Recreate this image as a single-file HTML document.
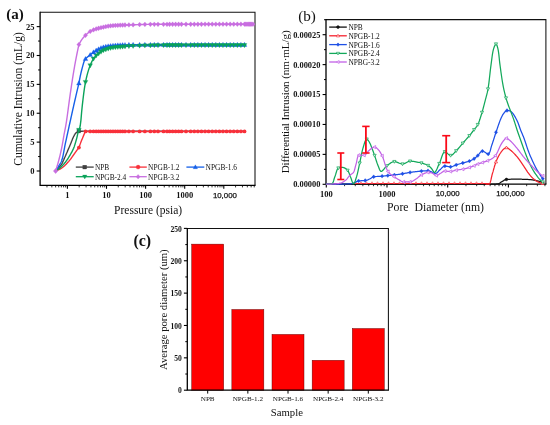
<!DOCTYPE html>
<html><head><meta charset="utf-8"><title>Figure</title>
<style>
html,body{margin:0;padding:0;background:#fff;}
body{width:550px;height:425px;overflow:hidden;}
svg{display:block;font-family:"Liberation Serif",serif;fill:#111;}
</style></head><body>
<svg width="550" height="425" viewBox="0 0 550 425">
<rect width="550" height="425" fill="#fff" stroke="none"/>
<path d="M40.1,12.3 H255 V185.4" fill="none" stroke="#111" stroke-width="1.05"/>
<path d="M40.1,11.8 V185.4 H255.5" fill="none" stroke="#000" stroke-width="1.3"/>
<line x1="36.7" y1="171" x2="40.1" y2="171" stroke="#000" stroke-width="1.1"/>
<text x="34.5" y="173.9" font-size="8.5" font-weight="bold" text-anchor="end">0</text>
<line x1="36.7" y1="142.12" x2="40.1" y2="142.12" stroke="#000" stroke-width="1.1"/>
<text x="34.5" y="145.03" font-size="8.5" font-weight="bold" text-anchor="end">5</text>
<line x1="36.7" y1="113.25" x2="40.1" y2="113.25" stroke="#000" stroke-width="1.1"/>
<text x="34.5" y="116.15" font-size="8.5" font-weight="bold" text-anchor="end">10</text>
<line x1="36.7" y1="84.38" x2="40.1" y2="84.38" stroke="#000" stroke-width="1.1"/>
<text x="34.5" y="87.28" font-size="8.5" font-weight="bold" text-anchor="end">15</text>
<line x1="36.7" y1="55.5" x2="40.1" y2="55.5" stroke="#000" stroke-width="1.1"/>
<text x="34.5" y="58.4" font-size="8.5" font-weight="bold" text-anchor="end">20</text>
<line x1="36.7" y1="26.62" x2="40.1" y2="26.62" stroke="#000" stroke-width="1.1"/>
<text x="34.5" y="29.52" font-size="8.5" font-weight="bold" text-anchor="end">25</text>
<line x1="38.1" y1="156.56" x2="40.1" y2="156.56" stroke="#000" stroke-width="1.0"/>
<line x1="38.1" y1="127.69" x2="40.1" y2="127.69" stroke="#000" stroke-width="1.0"/>
<line x1="38.1" y1="98.81" x2="40.1" y2="98.81" stroke="#000" stroke-width="1.0"/>
<line x1="38.1" y1="69.94" x2="40.1" y2="69.94" stroke="#000" stroke-width="1.0"/>
<line x1="38.1" y1="41.06" x2="40.1" y2="41.06" stroke="#000" stroke-width="1.0"/>
<line x1="67.4" y1="185.4" x2="67.4" y2="188.8" stroke="#000" stroke-width="1.1"/>
<text x="67.4" y="198.3" font-size="8.5" font-weight="bold" text-anchor="middle">1</text>
<line x1="106.5" y1="185.4" x2="106.5" y2="188.8" stroke="#000" stroke-width="1.1"/>
<text x="106.5" y="198.3" font-size="8.5" font-weight="bold" text-anchor="middle">10</text>
<line x1="145.6" y1="185.4" x2="145.6" y2="188.8" stroke="#000" stroke-width="1.1"/>
<text x="145.6" y="198.3" font-size="8.5" font-weight="bold" text-anchor="middle">100</text>
<line x1="184.7" y1="185.4" x2="184.7" y2="188.8" stroke="#000" stroke-width="1.1"/>
<text x="184.7" y="198.3" font-size="8.5" font-weight="bold" text-anchor="middle">1000</text>
<line x1="223.8" y1="185.4" x2="223.8" y2="188.8" stroke="#000" stroke-width="1.1"/>
<text x="224.9" y="197.9" font-size="7.85" text-anchor="middle" font-family="Liberation Sans, sans-serif" stroke="#111" stroke-width="0.25">10,000</text>
<line x1="46.96" y1="185.4" x2="46.96" y2="187.4" stroke="#000" stroke-width="0.8"/>
<line x1="51.84" y1="185.4" x2="51.84" y2="187.4" stroke="#000" stroke-width="0.8"/>
<line x1="55.63" y1="185.4" x2="55.63" y2="187.4" stroke="#000" stroke-width="0.8"/>
<line x1="58.73" y1="185.4" x2="58.73" y2="187.4" stroke="#000" stroke-width="0.8"/>
<line x1="61.34" y1="185.4" x2="61.34" y2="187.4" stroke="#000" stroke-width="0.8"/>
<line x1="63.61" y1="185.4" x2="63.61" y2="187.4" stroke="#000" stroke-width="0.8"/>
<line x1="65.61" y1="185.4" x2="65.61" y2="187.4" stroke="#000" stroke-width="0.8"/>
<line x1="79.17" y1="185.4" x2="79.17" y2="187.4" stroke="#000" stroke-width="0.8"/>
<line x1="86.06" y1="185.4" x2="86.06" y2="187.4" stroke="#000" stroke-width="0.8"/>
<line x1="90.94" y1="185.4" x2="90.94" y2="187.4" stroke="#000" stroke-width="0.8"/>
<line x1="94.73" y1="185.4" x2="94.73" y2="187.4" stroke="#000" stroke-width="0.8"/>
<line x1="97.83" y1="185.4" x2="97.83" y2="187.4" stroke="#000" stroke-width="0.8"/>
<line x1="100.44" y1="185.4" x2="100.44" y2="187.4" stroke="#000" stroke-width="0.8"/>
<line x1="102.71" y1="185.4" x2="102.71" y2="187.4" stroke="#000" stroke-width="0.8"/>
<line x1="104.71" y1="185.4" x2="104.71" y2="187.4" stroke="#000" stroke-width="0.8"/>
<line x1="118.27" y1="185.4" x2="118.27" y2="187.4" stroke="#000" stroke-width="0.8"/>
<line x1="125.16" y1="185.4" x2="125.16" y2="187.4" stroke="#000" stroke-width="0.8"/>
<line x1="130.04" y1="185.4" x2="130.04" y2="187.4" stroke="#000" stroke-width="0.8"/>
<line x1="133.83" y1="185.4" x2="133.83" y2="187.4" stroke="#000" stroke-width="0.8"/>
<line x1="136.93" y1="185.4" x2="136.93" y2="187.4" stroke="#000" stroke-width="0.8"/>
<line x1="139.54" y1="185.4" x2="139.54" y2="187.4" stroke="#000" stroke-width="0.8"/>
<line x1="141.81" y1="185.4" x2="141.81" y2="187.4" stroke="#000" stroke-width="0.8"/>
<line x1="143.81" y1="185.4" x2="143.81" y2="187.4" stroke="#000" stroke-width="0.8"/>
<line x1="157.37" y1="185.4" x2="157.37" y2="187.4" stroke="#000" stroke-width="0.8"/>
<line x1="164.26" y1="185.4" x2="164.26" y2="187.4" stroke="#000" stroke-width="0.8"/>
<line x1="169.14" y1="185.4" x2="169.14" y2="187.4" stroke="#000" stroke-width="0.8"/>
<line x1="172.93" y1="185.4" x2="172.93" y2="187.4" stroke="#000" stroke-width="0.8"/>
<line x1="176.03" y1="185.4" x2="176.03" y2="187.4" stroke="#000" stroke-width="0.8"/>
<line x1="178.64" y1="185.4" x2="178.64" y2="187.4" stroke="#000" stroke-width="0.8"/>
<line x1="180.91" y1="185.4" x2="180.91" y2="187.4" stroke="#000" stroke-width="0.8"/>
<line x1="182.91" y1="185.4" x2="182.91" y2="187.4" stroke="#000" stroke-width="0.8"/>
<line x1="196.47" y1="185.4" x2="196.47" y2="187.4" stroke="#000" stroke-width="0.8"/>
<line x1="203.36" y1="185.4" x2="203.36" y2="187.4" stroke="#000" stroke-width="0.8"/>
<line x1="208.24" y1="185.4" x2="208.24" y2="187.4" stroke="#000" stroke-width="0.8"/>
<line x1="212.03" y1="185.4" x2="212.03" y2="187.4" stroke="#000" stroke-width="0.8"/>
<line x1="215.13" y1="185.4" x2="215.13" y2="187.4" stroke="#000" stroke-width="0.8"/>
<line x1="217.74" y1="185.4" x2="217.74" y2="187.4" stroke="#000" stroke-width="0.8"/>
<line x1="220.01" y1="185.4" x2="220.01" y2="187.4" stroke="#000" stroke-width="0.8"/>
<line x1="222.01" y1="185.4" x2="222.01" y2="187.4" stroke="#000" stroke-width="0.8"/>
<line x1="235.57" y1="185.4" x2="235.57" y2="187.4" stroke="#000" stroke-width="0.8"/>
<line x1="242.46" y1="185.4" x2="242.46" y2="187.4" stroke="#000" stroke-width="0.8"/>
<line x1="247.34" y1="185.4" x2="247.34" y2="187.4" stroke="#000" stroke-width="0.8"/>
<line x1="251.13" y1="185.4" x2="251.13" y2="187.4" stroke="#000" stroke-width="0.8"/>
<line x1="254.23" y1="185.4" x2="254.23" y2="187.4" stroke="#000" stroke-width="0.8"/>
<text x="22" y="99" font-size="11.5" text-anchor="middle" transform="rotate(-90 22 99)">Cumulative Intrusion (mL/g)</text>
<text x="148.1" y="214.1" font-size="11.5" text-anchor="middle">Pressure (psia)</text>
<text x="15.1" y="18.5" font-size="15" font-weight="bold" text-anchor="middle">(a)</text>
<polyline points="55.63,171 55.78,170.86 55.93,170.71 56.09,170.56 56.24,170.41 56.39,170.26 56.55,170.11 56.7,169.95 56.85,169.8 57,169.64 57.16,169.48 57.31,169.31 57.46,169.15 57.62,168.98 57.77,168.82 57.93,168.65 58.08,168.48 58.23,168.3 58.39,168.13 58.54,167.95 58.7,167.77 58.86,167.59 59.01,167.41 59.17,167.23 59.34,167.05 59.5,166.86 59.66,166.67 59.82,166.48 59.98,166.29 60.14,166.09 60.3,165.9 60.46,165.7 60.62,165.5 60.78,165.29 60.93,165.09 61.09,164.88 61.24,164.67 61.38,164.45 61.53,164.23 61.67,164.01 61.81,163.79 61.94,163.56 62.07,163.33 62.2,163.09 62.33,162.85 62.45,162.61 62.58,162.36 62.7,162.1 62.82,161.84 62.94,161.58 63.06,161.32 63.18,161.05 63.29,160.79 63.41,160.52 63.53,160.25 63.64,159.98 63.75,159.7 63.87,159.43 63.98,159.16 64.1,158.89 64.21,158.62 64.33,158.34 64.45,158.08 64.56,157.81 64.68,157.54 64.8,157.28 64.92,157.01 65.04,156.75 65.15,156.49 65.27,156.22 65.39,155.96 65.51,155.69 65.63,155.43 65.74,155.16 65.86,154.89 65.98,154.63 66.09,154.36 66.21,154.09 66.33,153.83 66.45,153.56 66.56,153.29 66.68,153.02 66.8,152.75 66.92,152.48 67.03,152.21 67.15,151.94 67.27,151.67 67.38,151.4 67.5,151.13 67.62,150.86 67.74,150.58 67.85,150.31 67.97,150.03 68.09,149.76 68.21,149.48 68.33,149.2 68.44,148.93 68.56,148.65 68.68,148.37 68.8,148.09 68.92,147.81 69.03,147.53 69.15,147.25 69.27,146.97 69.39,146.69 69.51,146.41 69.62,146.13 69.74,145.85 69.86,145.57 69.98,145.29 70.09,145.01 70.21,144.73 70.33,144.45 70.44,144.17 70.56,143.9 70.68,143.62 70.79,143.34 70.91,143.05 71.02,142.76 71.13,142.48 71.25,142.18 71.36,141.89 71.48,141.6 71.59,141.31 71.7,141.01 71.82,140.72 71.93,140.43 72.04,140.14 72.15,139.85 72.27,139.57 72.38,139.28 72.5,139 72.61,138.73 72.72,138.46 72.84,138.19 72.96,137.93 73.07,137.68 73.19,137.43 73.31,137.18 73.42,136.95 73.54,136.72 73.66,136.49 73.78,136.26 73.89,136.04 74,135.81 74.12,135.59 74.23,135.37 74.35,135.15 74.46,134.94 74.58,134.73 74.7,134.53 74.81,134.33 74.94,134.14 75.06,133.95 75.19,133.78 75.32,133.61 75.45,133.44 75.59,133.29 75.73,133.15 75.88,133.02 76.03,132.89 76.19,132.76 76.36,132.63 76.53,132.51 76.71,132.38 76.89,132.26 77.07,132.14 77.26,132.02 77.46,131.91 77.66,131.81 77.86,131.71 78.06,131.62 78.27,131.54 78.48,131.47 78.69,131.41 78.91,131.36 79.13,131.33 79.35,131.3 79.57,131.29 79.79,131.28 80.02,131.27 80.25,131.26 80.48,131.24 80.72,131.23 80.97,131.22 81.21,131.22 81.46,131.21 81.71,131.2 81.97,131.19 82.23,131.19 82.49,131.18 82.76,131.17 83.03,131.17 83.3,131.16 83.58,131.16 83.85,131.16 84.14,131.16 84.42,131.15 84.71,131.15 85,131.15 244.5,131.15" fill="none" stroke="#404040" stroke-width="1.4" stroke-linejoin="round" stroke-linecap="round"/>
<rect x="77.04" y="129.45" width="3.4" height="3.4" fill="#404040" stroke="#404040" stroke-width="0.5"/>
<polyline points="55.63,171 55.96,170.88 56.29,170.75 56.63,170.62 56.96,170.49 57.3,170.34 57.64,170.19 57.98,170.04 58.32,169.88 58.67,169.72 59.02,169.55 59.37,169.38 59.73,169.2 60.09,169.01 60.45,168.81 60.81,168.61 61.16,168.41 61.5,168.19 61.84,167.98 62.16,167.75 62.48,167.51 62.8,167.27 63.11,167.02 63.41,166.76 63.72,166.49 64.02,166.22 64.32,165.95 64.62,165.67 64.92,165.39 65.22,165.11 65.52,164.81 65.81,164.51 66.11,164.21 66.4,163.9 66.69,163.59 66.98,163.28 67.27,162.96 67.56,162.64 67.85,162.32 68.14,162 68.42,161.68 68.71,161.36 68.99,161.03 69.28,160.7 69.56,160.36 69.84,160.02 70.12,159.68 70.4,159.32 70.68,158.97 70.96,158.6 71.24,158.22 71.51,157.84 71.79,157.45 72.06,157.06 72.33,156.67 72.61,156.28 72.88,155.89 73.15,155.5 73.41,155.12 73.68,154.75 73.94,154.38 74.2,154.01 74.46,153.64 74.72,153.28 74.97,152.91 75.23,152.55 75.49,152.19 75.74,151.83 76,151.47 76.26,151.11 76.52,150.76 76.79,150.4 77.05,150.05 77.31,149.7 77.58,149.35 77.84,149 78.1,148.65 78.37,148.3 78.63,147.96 78.9,147.61 78.9,147.61 79.58,145.71 80.26,143.87 80.94,142.08 81.63,140.35 82.31,138.65 82.99,137 83.67,135.38 84.35,133.79 85.03,132.23 85.72,131.44 86.4,131.44 87.08,131.44 87.76,131.44 88.44,131.44 89.12,131.44 89.8,131.44 90.49,131.44 91.17,131.44 91.85,131.44 92.53,131.44 93.21,131.44 93.89,131.44 94.57,131.44 95.26,131.44 95.94,131.44 96.62,131.44 97.3,131.44 97.98,131.44 98.66,131.44 99.35,131.44 100.03,131.44 100.71,131.44 101.39,131.44 102.07,131.44 102.75,131.44 103.43,131.44 104.12,131.44 104.8,131.44 105.48,131.44 106.16,131.44 106.84,131.44 107.52,131.44 108.21,131.44 108.89,131.44 109.57,131.44 110.25,131.44 110.93,131.44 111.61,131.44 112.29,131.44 112.98,131.44 113.66,131.44 114.34,131.44 115.02,131.44 115.7,131.44 116.38,131.44 117.06,131.44 117.75,131.44 118.43,131.44 119.11,131.44 119.79,131.44 120.47,131.44 121.15,131.44 121.84,131.44 122.52,131.44 123.2,131.44 123.88,131.44 124.56,131.44 125.24,131.44 125.92,131.44 126.61,131.44 127.29,131.44 127.97,131.44 128.65,131.44 129.33,131.44 130.01,131.44 130.69,131.44 131.38,131.44 132.06,131.44 132.74,131.44 133.42,131.44 134.1,131.44 134.78,131.44 135.47,131.44 136.15,131.44 136.83,131.44 137.51,131.44 138.19,131.44 138.87,131.44 139.55,131.44 140.24,131.44 140.92,131.44 141.6,131.44 142.28,131.44 142.96,131.44 143.64,131.44 144.33,131.44 145.01,131.44 145.69,131.44 146.37,131.44 147.05,131.44 147.73,131.44 148.41,131.44 149.1,131.44 149.78,131.44 150.46,131.44 151.14,131.44 151.82,131.44 152.5,131.44 153.18,131.44 153.87,131.44 154.55,131.44 155.23,131.44 155.91,131.44 156.59,131.44 157.27,131.44 157.96,131.44 158.64,131.44 159.32,131.44 160,131.44 162,131.44 169.5,131.44 177,131.44 184.5,131.44 192,131.44 199.5,131.44 207,131.44 214.5,131.44 222,131.44 229.5,131.44 237,131.44 244.5,131.44" fill="none" stroke="#f8303a" stroke-width="1.4" stroke-linejoin="round" stroke-linecap="round"/>
<polyline points="55.63,171 56.01,170.44 56.4,169.87 56.78,169.29 57.17,168.69 57.56,168.07 57.94,167.44 58.33,166.79 58.71,166.14 59.11,165.49 59.52,164.83 59.93,164.16 60.33,163.46 60.73,162.74 61.11,161.98 61.47,161.16 61.8,160.3 62.11,159.33 62.41,158.26 62.71,157.1 62.99,155.86 63.26,154.57 63.52,153.23 63.78,151.86 64.03,150.49 64.28,149.12 64.53,147.78 64.77,146.48 65.01,145.23 65.24,144.07 65.48,142.97 65.71,141.9 65.94,140.85 66.16,139.82 66.38,138.82 66.59,137.83 66.8,136.85 67.01,135.89 67.22,134.94 67.42,134 67.63,133.07 67.83,132.17 68.01,131.31 68.2,130.48 68.38,129.66 68.56,128.84 68.74,127.99 68.93,127.12 69.14,126.19 69.35,125.21 69.59,124.15 69.83,123.02 70.09,121.84 70.37,120.61 70.65,119.33 70.94,118.02 71.23,116.67 71.54,115.29 71.85,113.89 72.16,112.48 72.47,111.07 72.79,109.65 73.11,108.23 73.43,106.83 73.74,105.43 74.06,104.03 74.38,102.61 74.71,101.19 75.04,99.75 75.37,98.3 75.71,96.84 76.05,95.37 76.4,93.89 76.74,92.4 77.09,90.89 77.45,89.38 77.81,87.86 78.17,86.32 78.53,84.78 78.9,83.22 78.9,83.22 79.58,79.6 80.26,76.21 80.94,73.07 81.63,70.22 82.31,67.63 82.99,65.1 83.67,62.76 84.35,60.82 85.03,59.49 85.72,58.62 86.4,57.91 87.08,57.32 87.76,56.81 88.44,56.32 89.12,55.81 89.8,55.24 90.49,54.66 91.17,54.08 91.85,53.52 92.53,52.97 93.21,52.44 93.89,51.95 94.57,51.48 95.26,51.04 95.94,50.61 96.62,50.2 97.3,49.82 97.98,49.45 98.66,49.12 99.35,48.8 100.03,48.49 100.71,48.2 101.39,47.92 102.07,47.67 102.75,47.44 103.43,47.23 104.12,47.04 104.8,46.86 105.48,46.7 106.16,46.55 106.84,46.41 107.52,46.29 108.21,46.18 108.89,46.08 109.57,45.98 110.25,45.9 110.93,45.82 111.61,45.75 112.29,45.68 112.98,45.62 113.66,45.57 114.34,45.52 115.02,45.47 115.7,45.42 116.38,45.37 117.06,45.33 117.75,45.29 118.43,45.25 119.11,45.21 119.79,45.18 120.47,45.15 121.15,45.12 121.84,45.09 122.52,45.06 123.2,45.03 123.88,45 124.56,44.97 125.24,44.94 125.92,44.92 126.61,44.89 127.29,44.87 127.97,44.85 128.65,44.84 129.33,44.83 130.01,44.82 130.69,44.82 131.38,44.81 132.06,44.81 132.74,44.81 133.42,44.81 134.1,44.81 134.78,44.81 135.47,44.8 136.15,44.8 136.83,44.8 137.51,44.8 138.19,44.8 138.87,44.8 139.55,44.79 140.24,44.79 140.92,44.79 141.6,44.79 142.28,44.79 142.96,44.79 143.64,44.79 144.33,44.78 145.01,44.78 145.69,44.78 146.37,44.78 147.05,44.78 147.73,44.78 148.41,44.78 149.1,44.77 149.78,44.77 150.46,44.77 151.14,44.77 151.82,44.77 152.5,44.77 153.18,44.77 153.87,44.77 154.55,44.76 155.23,44.76 155.91,44.76 156.59,44.76 157.27,44.76 157.96,44.76 158.64,44.76 159.32,44.76 160,44.76 162,44.75 169.5,44.74 177,44.73 184.5,44.73 192,44.72 199.5,44.71 207,44.71 214.5,44.71 222,44.7 229.5,44.7 237,44.7 244.5,44.7" fill="none" stroke="#1560e8" stroke-width="1.4" stroke-linejoin="round" stroke-linecap="round"/>
<polyline points="55.63,171 56.03,170.79 56.44,170.57 56.84,170.33 57.24,170.07 57.65,169.8 58.05,169.52 58.46,169.23 58.86,168.92 59.27,168.59 59.69,168.23 60.1,167.86 60.51,167.47 60.91,167.08 61.31,166.69 61.7,166.3 62.08,165.92 62.45,165.53 62.82,165.14 63.18,164.75 63.54,164.35 63.9,163.95 64.25,163.54 64.6,163.12 64.95,162.69 65.3,162.26 65.64,161.82 65.99,161.36 66.33,160.91 66.67,160.44 67,159.97 67.34,159.49 67.67,159 67.99,158.51 68.31,158 68.64,157.49 68.95,156.97 69.27,156.44 69.58,155.91 69.89,155.37 70.21,154.82 70.52,154.27 70.83,153.72 71.14,153.16 71.46,152.6 71.77,152.04 72.08,151.47 72.39,150.88 72.69,150.28 72.99,149.67 73.27,149.03 73.55,148.37 73.82,147.68 74.1,146.95 74.37,146.19 74.63,145.4 74.89,144.6 75.15,143.79 75.4,142.97 75.64,142.16 75.87,141.35 76.1,140.56 76.31,139.8 76.51,139.06 76.7,138.32 76.89,137.57 77.06,136.81 77.23,136.05 77.4,135.31 77.56,134.6 77.71,133.91 77.86,133.28 78.01,132.69 78.15,132.18 78.29,131.72 78.42,131.3 78.55,130.92 78.67,130.57 78.79,130.26 78.9,130 78.9,130 79.58,128.61 80.26,125.51 80.94,120.16 81.63,111.98 82.31,105.33 82.99,99.46 83.67,93.94 84.35,88.94 85.03,84.62 85.72,81.09 86.4,77.97 87.08,75.16 87.76,72.63 88.44,70.36 89.12,68.32 89.8,66.48 90.49,64.75 91.17,63.13 91.85,61.65 92.53,60.3 93.21,59.11 93.89,58.08 94.57,57.23 95.26,56.47 95.94,55.8 96.62,55.19 97.3,54.62 97.98,54.08 98.66,53.54 99.35,53.01 100.03,52.49 100.71,51.99 101.39,51.52 102.07,51.09 102.75,50.7 103.43,50.36 104.12,50.06 104.8,49.78 105.48,49.52 106.16,49.28 106.84,49.06 107.52,48.85 108.21,48.65 108.89,48.46 109.57,48.28 110.25,48.11 110.93,47.95 111.61,47.82 112.29,47.7 112.98,47.61 113.66,47.53 114.34,47.45 115.02,47.38 115.7,47.31 116.38,47.25 117.06,47.19 117.75,47.13 118.43,47.08 119.11,47.03 119.79,46.97 120.47,46.92 121.15,46.86 121.84,46.8 122.52,46.74 123.2,46.67 123.88,46.61 124.56,46.55 125.24,46.48 125.92,46.42 126.61,46.36 127.29,46.31 127.97,46.25 128.65,46.2 129.33,46.15 130.01,46.11 130.69,46.08 131.38,46.04 132.06,46.01 132.74,45.98 133.42,45.95 134.1,45.92 134.78,45.89 135.47,45.86 136.15,45.83 136.83,45.81 137.51,45.78 138.19,45.76 138.87,45.73 139.55,45.71 140.24,45.69 140.92,45.67 141.6,45.65 142.28,45.63 142.96,45.61 143.64,45.6 144.33,45.58 145.01,45.57 145.69,45.55 146.37,45.54 147.05,45.52 147.73,45.51 148.41,45.49 149.1,45.48 149.78,45.47 150.46,45.45 151.14,45.44 151.82,45.43 152.5,45.41 153.18,45.4 153.87,45.39 154.55,45.38 155.23,45.37 155.91,45.36 156.59,45.36 157.27,45.35 157.96,45.34 158.64,45.34 159.32,45.34 160,45.34 162,45.33 169.5,45.32 177,45.31 184.5,45.31 192,45.3 199.5,45.29 207,45.29 214.5,45.28 222,45.28 229.5,45.28 237,45.28 244.5,45.28" fill="none" stroke="#0aa35a" stroke-width="1.4" stroke-linejoin="round" stroke-linecap="round"/>
<polyline points="55.63,171 55.86,170.25 56.1,169.47 56.35,168.67 56.6,167.85 56.85,167 57.11,166.14 57.37,165.27 57.64,164.38 57.91,163.46 58.19,162.51 58.47,161.51 58.76,160.44 59.06,159.29 59.38,158.04 59.71,156.72 60.05,155.33 60.38,153.9 60.72,152.44 61.04,150.98 61.36,149.52 61.66,148.09 61.94,146.7 62.21,145.3 62.46,143.87 62.71,142.45 62.96,141.02 63.2,139.61 63.43,138.21 63.67,136.84 63.9,135.5 64.13,134.21 64.36,133.01 64.58,131.89 64.8,130.81 65.01,129.74 65.23,128.63 65.46,127.45 65.7,126.16 65.95,124.73 66.21,123.1 66.49,121.29 66.78,119.33 67.08,117.23 67.39,115.02 67.7,112.72 68.02,110.35 68.34,107.94 68.66,105.52 68.99,103.1 69.31,100.71 69.63,98.37 69.95,96.11 70.26,93.95 70.56,91.89 70.86,89.87 71.16,87.88 71.45,85.91 71.74,83.97 72.04,82.04 72.33,80.12 72.62,78.22 72.92,76.33 73.22,74.44 73.53,72.55 73.84,70.66 74.17,68.77 74.5,66.88 74.83,64.99 75.18,63.1 75.52,61.22 75.88,59.34 76.24,57.47 76.6,55.61 76.97,53.75 77.35,51.89 77.73,50.04 78.12,48.2 78.51,46.36 78.9,44.53 78.9,44.53 79.58,43.25 80.26,42.04 80.94,40.9 81.63,39.86 82.31,38.91 82.99,38.04 83.67,37.22 84.35,36.46 85.03,35.75 85.72,35.08 86.4,34.44 87.08,33.81 87.76,33.21 88.44,32.64 89.12,32.13 89.8,31.66 90.49,31.25 91.17,30.9 91.85,30.57 92.53,30.26 93.21,29.98 93.89,29.71 94.57,29.47 95.26,29.24 95.94,29.02 96.62,28.81 97.3,28.61 97.98,28.42 98.66,28.25 99.35,28.08 100.03,27.92 100.71,27.76 101.39,27.61 102.07,27.46 102.75,27.31 103.43,27.15 104.12,27 104.8,26.84 105.48,26.68 106.16,26.53 106.84,26.39 107.52,26.25 108.21,26.13 108.89,26.02 109.57,25.92 110.25,25.85 110.93,25.78 111.61,25.72 112.29,25.65 112.98,25.6 113.66,25.54 114.34,25.49 115.02,25.45 115.7,25.4 116.38,25.36 117.06,25.32 117.75,25.28 118.43,25.25 119.11,25.22 119.79,25.19 120.47,25.16 121.15,25.14 121.84,25.11 122.52,25.09 123.2,25.07 123.88,25.05 124.56,25.03 125.24,25.02 125.92,25 126.61,24.98 127.29,24.96 127.97,24.95 128.65,24.93 129.33,24.91 130.01,24.89 130.69,24.87 131.38,24.85 132.06,24.83 132.74,24.8 133.42,24.78 134.1,24.76 134.78,24.73 135.47,24.71 136.15,24.68 136.83,24.65 137.51,24.63 138.19,24.6 138.87,24.58 139.55,24.55 140.24,24.53 140.92,24.51 141.6,24.48 142.28,24.46 142.96,24.44 143.64,24.42 144.33,24.4 145.01,24.39 145.69,24.37 146.37,24.36 147.05,24.34 147.73,24.33 148.41,24.33 149.1,24.32 149.78,24.32 150.46,24.31 151.14,24.31 151.82,24.31 152.5,24.31 153.18,24.31 153.87,24.31 154.55,24.3 155.23,24.3 155.91,24.3 156.59,24.3 157.27,24.3 157.96,24.3 158.64,24.29 159.32,24.29 160,24.29 162,24.29 170.32,24.27 178.64,24.26 186.95,24.24 195.27,24.23 203.59,24.22 211.91,24.22 220.23,24.21 228.55,24.21 236.86,24.2 245.18,24.2 253.5,24.2" fill="none" stroke="#c86ee0" stroke-width="1.4" stroke-linejoin="round" stroke-linecap="round"/>
<circle cx="78.9" cy="147.61" r="1.9" fill="#f8303a"/>
<circle cx="85.5" cy="131.44" r="1.9" fill="#f8303a"/>
<circle cx="90.2" cy="131.44" r="1.9" fill="#f8303a"/>
<circle cx="93.5" cy="131.44" r="1.9" fill="#f8303a"/>
<circle cx="96.2" cy="131.44" r="1.9" fill="#f8303a"/>
<circle cx="98.6" cy="131.44" r="1.9" fill="#f8303a"/>
<circle cx="101" cy="131.44" r="1.9" fill="#f8303a"/>
<circle cx="103.4" cy="131.44" r="1.9" fill="#f8303a"/>
<circle cx="105.8" cy="131.44" r="1.9" fill="#f8303a"/>
<circle cx="108.2" cy="131.44" r="1.9" fill="#f8303a"/>
<circle cx="110.6" cy="131.44" r="1.9" fill="#f8303a"/>
<circle cx="113" cy="131.44" r="1.9" fill="#f8303a"/>
<circle cx="115.4" cy="131.44" r="1.9" fill="#f8303a"/>
<circle cx="117.8" cy="131.44" r="1.9" fill="#f8303a"/>
<circle cx="120.2" cy="131.44" r="1.9" fill="#f8303a"/>
<circle cx="122.6" cy="131.44" r="1.9" fill="#f8303a"/>
<circle cx="125" cy="131.44" r="1.9" fill="#f8303a"/>
<circle cx="128.9" cy="131.44" r="1.9" fill="#f8303a"/>
<circle cx="133.1" cy="131.44" r="1.9" fill="#f8303a"/>
<circle cx="139.6" cy="131.44" r="1.9" fill="#f8303a"/>
<circle cx="144.9" cy="131.44" r="1.9" fill="#f8303a"/>
<circle cx="150.4" cy="131.44" r="1.9" fill="#f8303a"/>
<circle cx="154.3" cy="131.44" r="1.9" fill="#f8303a"/>
<circle cx="158" cy="131.44" r="1.9" fill="#f8303a"/>
<circle cx="163.5" cy="131.44" r="1.9" fill="#f8303a"/>
<circle cx="167" cy="131.44" r="1.9" fill="#f8303a"/>
<circle cx="169.6" cy="131.44" r="1.9" fill="#f8303a"/>
<circle cx="172.6" cy="131.44" r="1.9" fill="#f8303a"/>
<circle cx="175.6" cy="131.44" r="1.9" fill="#f8303a"/>
<circle cx="178.6" cy="131.44" r="1.9" fill="#f8303a"/>
<circle cx="181.5" cy="131.44" r="1.9" fill="#f8303a"/>
<circle cx="186" cy="131.44" r="1.9" fill="#f8303a"/>
<circle cx="190.7" cy="131.44" r="1.9" fill="#f8303a"/>
<circle cx="194.29" cy="131.44" r="1.9" fill="#f8303a"/>
<circle cx="197.87" cy="131.44" r="1.9" fill="#f8303a"/>
<circle cx="201.46" cy="131.44" r="1.9" fill="#f8303a"/>
<circle cx="205.05" cy="131.44" r="1.9" fill="#f8303a"/>
<circle cx="208.63" cy="131.44" r="1.9" fill="#f8303a"/>
<circle cx="212.22" cy="131.44" r="1.9" fill="#f8303a"/>
<circle cx="215.81" cy="131.44" r="1.9" fill="#f8303a"/>
<circle cx="219.39" cy="131.44" r="1.9" fill="#f8303a"/>
<circle cx="222.98" cy="131.44" r="1.9" fill="#f8303a"/>
<circle cx="226.57" cy="131.44" r="1.9" fill="#f8303a"/>
<circle cx="230.15" cy="131.44" r="1.9" fill="#f8303a"/>
<circle cx="233.74" cy="131.44" r="1.9" fill="#f8303a"/>
<circle cx="237.33" cy="131.44" r="1.9" fill="#f8303a"/>
<circle cx="240.91" cy="131.44" r="1.9" fill="#f8303a"/>
<circle cx="244.5" cy="131.44" r="1.9" fill="#f8303a"/>
<polygon points="78.9,132.47 76.54,128.28 81.27,128.28" fill="#0aa35a" stroke="#0aa35a" stroke-width="0.3"/>
<polygon points="85.5,84.61 83.14,80.42 87.86,80.42" fill="#0aa35a" stroke="#0aa35a" stroke-width="0.3"/>
<polygon points="90.2,67.93 87.84,63.74 92.56,63.74" fill="#0aa35a" stroke="#0aa35a" stroke-width="0.3"/>
<polygon points="93.5,61.13 91.14,56.93 95.86,56.93" fill="#0aa35a" stroke="#0aa35a" stroke-width="0.3"/>
<polygon points="96.2,58.03 93.84,53.84 98.56,53.84" fill="#0aa35a" stroke="#0aa35a" stroke-width="0.3"/>
<polygon points="98.6,56.07 96.23,51.87 100.96,51.87" fill="#0aa35a" stroke="#0aa35a" stroke-width="0.3"/>
<polygon points="78.9,80.75 76.54,84.94 81.27,84.94" fill="#1560e8" stroke="#1560e8" stroke-width="0.3"/>
<polygon points="85.5,56.4 83.14,60.6 87.86,60.6" fill="#1560e8" stroke="#1560e8" stroke-width="0.3"/>
<polygon points="90.2,52.43 87.84,56.62 92.56,56.62" fill="#1560e8" stroke="#1560e8" stroke-width="0.3"/>
<polygon points="93.5,49.75 91.14,53.95 95.86,53.95" fill="#1560e8" stroke="#1560e8" stroke-width="0.3"/>
<polygon points="96.2,47.98 93.84,52.17 98.56,52.17" fill="#1560e8" stroke="#1560e8" stroke-width="0.3"/>
<polygon points="98.6,46.67 96.23,50.87 100.96,50.87" fill="#1560e8" stroke="#1560e8" stroke-width="0.3"/>
<polygon points="101,45.6 98.64,49.8 103.36,49.8" fill="#1560e8" stroke="#1560e8" stroke-width="0.3"/>
<polygon points="103.4,44.77 101.04,48.96 105.77,48.96" fill="#1560e8" stroke="#1560e8" stroke-width="0.3"/>
<polygon points="105.8,44.15 103.44,48.35 108.17,48.35" fill="#1560e8" stroke="#1560e8" stroke-width="0.3"/>
<polygon points="108.2,43.71 105.84,47.9 110.57,47.9" fill="#1560e8" stroke="#1560e8" stroke-width="0.3"/>
<polygon points="110.6,43.38 108.24,47.58 112.97,47.58" fill="#1560e8" stroke="#1560e8" stroke-width="0.3"/>
<polygon points="113,43.15 110.64,47.34 115.37,47.34" fill="#1560e8" stroke="#1560e8" stroke-width="0.3"/>
<polygon points="115.4,42.97 113.04,47.16 117.77,47.16" fill="#1560e8" stroke="#1560e8" stroke-width="0.3"/>
<polygon points="117.8,42.81 115.44,47 120.17,47" fill="#1560e8" stroke="#1560e8" stroke-width="0.3"/>
<polygon points="120.2,42.69 117.84,46.88 122.57,46.88" fill="#1560e8" stroke="#1560e8" stroke-width="0.3"/>
<polygon points="122.6,42.58 120.24,46.77 124.97,46.77" fill="#1560e8" stroke="#1560e8" stroke-width="0.3"/>
<polygon points="125,42.48 122.64,46.67 127.37,46.67" fill="#1560e8" stroke="#1560e8" stroke-width="0.3"/>
<polygon points="128.9,42.36 126.54,46.55 131.27,46.55" fill="#1560e8" stroke="#1560e8" stroke-width="0.3"/>
<polygon points="133.1,42.34 130.73,46.53 135.47,46.53" fill="#1560e8" stroke="#1560e8" stroke-width="0.3"/>
<polygon points="139.6,42.32 137.23,46.51 141.97,46.51" fill="#1560e8" stroke="#1560e8" stroke-width="0.3"/>
<polygon points="144.9,42.31 142.53,46.5 147.27,46.5" fill="#1560e8" stroke="#1560e8" stroke-width="0.3"/>
<polygon points="150.4,42.3 148.03,46.49 152.77,46.49" fill="#1560e8" stroke="#1560e8" stroke-width="0.3"/>
<polygon points="154.3,42.29 151.94,46.49 156.67,46.49" fill="#1560e8" stroke="#1560e8" stroke-width="0.3"/>
<polygon points="158,42.29 155.63,46.48 160.37,46.48" fill="#1560e8" stroke="#1560e8" stroke-width="0.3"/>
<polygon points="163.5,42.28 161.13,46.47 165.87,46.47" fill="#1560e8" stroke="#1560e8" stroke-width="0.3"/>
<polygon points="167,42.27 164.63,46.47 169.37,46.47" fill="#1560e8" stroke="#1560e8" stroke-width="0.3"/>
<polygon points="169.6,42.27 167.23,46.46 171.97,46.46" fill="#1560e8" stroke="#1560e8" stroke-width="0.3"/>
<polygon points="172.6,42.27 170.23,46.46 174.97,46.46" fill="#1560e8" stroke="#1560e8" stroke-width="0.3"/>
<polygon points="175.6,42.26 173.23,46.45 177.97,46.45" fill="#1560e8" stroke="#1560e8" stroke-width="0.3"/>
<polygon points="178.6,42.26 176.23,46.45 180.97,46.45" fill="#1560e8" stroke="#1560e8" stroke-width="0.3"/>
<polygon points="181.5,42.26 179.13,46.45 183.87,46.45" fill="#1560e8" stroke="#1560e8" stroke-width="0.3"/>
<polygon points="186,42.25 183.63,46.44 188.37,46.44" fill="#1560e8" stroke="#1560e8" stroke-width="0.3"/>
<polygon points="190.7,42.25 188.33,46.44 193.06,46.44" fill="#1560e8" stroke="#1560e8" stroke-width="0.3"/>
<polygon points="194.29,42.24 191.92,46.44 196.65,46.44" fill="#1560e8" stroke="#1560e8" stroke-width="0.3"/>
<polygon points="197.87,42.24 195.51,46.43 200.24,46.43" fill="#1560e8" stroke="#1560e8" stroke-width="0.3"/>
<polygon points="201.46,42.24 199.09,46.43 203.82,46.43" fill="#1560e8" stroke="#1560e8" stroke-width="0.3"/>
<polygon points="205.05,42.24 202.68,46.43 207.41,46.43" fill="#1560e8" stroke="#1560e8" stroke-width="0.3"/>
<polygon points="208.63,42.24 206.27,46.43 211,46.43" fill="#1560e8" stroke="#1560e8" stroke-width="0.3"/>
<polygon points="212.22,42.23 209.85,46.43 214.59,46.43" fill="#1560e8" stroke="#1560e8" stroke-width="0.3"/>
<polygon points="215.81,42.23 213.44,46.43 218.17,46.43" fill="#1560e8" stroke="#1560e8" stroke-width="0.3"/>
<polygon points="219.39,42.23 217.03,46.42 221.76,46.42" fill="#1560e8" stroke="#1560e8" stroke-width="0.3"/>
<polygon points="222.98,42.23 220.61,46.42 225.34,46.42" fill="#1560e8" stroke="#1560e8" stroke-width="0.3"/>
<polygon points="226.57,42.23 224.2,46.42 228.93,46.42" fill="#1560e8" stroke="#1560e8" stroke-width="0.3"/>
<polygon points="230.15,42.23 227.79,46.42 232.52,46.42" fill="#1560e8" stroke="#1560e8" stroke-width="0.3"/>
<polygon points="233.74,42.23 231.38,46.42 236.11,46.42" fill="#1560e8" stroke="#1560e8" stroke-width="0.3"/>
<polygon points="237.33,42.23 234.96,46.42 239.69,46.42" fill="#1560e8" stroke="#1560e8" stroke-width="0.3"/>
<polygon points="240.91,42.23 238.55,46.42 243.28,46.42" fill="#1560e8" stroke="#1560e8" stroke-width="0.3"/>
<polygon points="244.5,42.23 242.13,46.42 246.87,46.42" fill="#1560e8" stroke="#1560e8" stroke-width="0.3"/>
<polygon points="101,54.26 98.64,50.07 103.36,50.07" fill="#0aa35a" stroke="#0aa35a" stroke-width="0.3"/>
<polygon points="103.4,52.85 101.04,48.66 105.77,48.66" fill="#0aa35a" stroke="#0aa35a" stroke-width="0.3"/>
<polygon points="105.8,51.88 103.44,47.69 108.17,47.69" fill="#0aa35a" stroke="#0aa35a" stroke-width="0.3"/>
<polygon points="108.2,51.13 105.84,46.94 110.57,46.94" fill="#0aa35a" stroke="#0aa35a" stroke-width="0.3"/>
<polygon points="110.6,50.5 108.24,46.3 112.97,46.3" fill="#0aa35a" stroke="#0aa35a" stroke-width="0.3"/>
<polygon points="113,50.08 110.64,45.89 115.37,45.89" fill="#0aa35a" stroke="#0aa35a" stroke-width="0.3"/>
<polygon points="115.4,49.81 113.04,45.62 117.77,45.62" fill="#0aa35a" stroke="#0aa35a" stroke-width="0.3"/>
<polygon points="117.8,49.6 115.44,45.41 120.17,45.41" fill="#0aa35a" stroke="#0aa35a" stroke-width="0.3"/>
<polygon points="120.2,49.41 117.84,45.22 122.57,45.22" fill="#0aa35a" stroke="#0aa35a" stroke-width="0.3"/>
<polygon points="122.6,49.2 120.24,45.01 124.97,45.01" fill="#0aa35a" stroke="#0aa35a" stroke-width="0.3"/>
<polygon points="125,48.98 122.64,44.79 127.37,44.79" fill="#0aa35a" stroke="#0aa35a" stroke-width="0.3"/>
<polygon points="128.9,48.66 126.54,44.46 131.27,44.46" fill="#0aa35a" stroke="#0aa35a" stroke-width="0.3"/>
<polygon points="133.1,48.43 130.73,44.24 135.47,44.24" fill="#0aa35a" stroke="#0aa35a" stroke-width="0.3"/>
<polygon points="139.6,48.18 137.23,43.99 141.97,43.99" fill="#0aa35a" stroke="#0aa35a" stroke-width="0.3"/>
<polygon points="144.9,48.04 142.53,43.85 147.27,43.85" fill="#0aa35a" stroke="#0aa35a" stroke-width="0.3"/>
<polygon points="150.4,47.93 148.03,43.73 152.77,43.73" fill="#0aa35a" stroke="#0aa35a" stroke-width="0.3"/>
<polygon points="154.3,47.86 151.94,43.67 156.67,43.67" fill="#0aa35a" stroke="#0aa35a" stroke-width="0.3"/>
<polygon points="158,47.82 155.63,43.62 160.37,43.62" fill="#0aa35a" stroke="#0aa35a" stroke-width="0.3"/>
<polygon points="163.5,47.8 161.13,43.61 165.87,43.61" fill="#0aa35a" stroke="#0aa35a" stroke-width="0.3"/>
<polygon points="167,47.8 164.63,43.61 169.37,43.61" fill="#0aa35a" stroke="#0aa35a" stroke-width="0.3"/>
<polygon points="169.6,47.79 167.23,43.6 171.97,43.6" fill="#0aa35a" stroke="#0aa35a" stroke-width="0.3"/>
<polygon points="172.6,47.79 170.23,43.6 174.97,43.6" fill="#0aa35a" stroke="#0aa35a" stroke-width="0.3"/>
<polygon points="175.6,47.79 173.23,43.59 177.97,43.59" fill="#0aa35a" stroke="#0aa35a" stroke-width="0.3"/>
<polygon points="178.6,47.78 176.23,43.59 180.97,43.59" fill="#0aa35a" stroke="#0aa35a" stroke-width="0.3"/>
<polygon points="181.5,47.78 179.13,43.59 183.87,43.59" fill="#0aa35a" stroke="#0aa35a" stroke-width="0.3"/>
<polygon points="186,47.78 183.63,43.58 188.37,43.58" fill="#0aa35a" stroke="#0aa35a" stroke-width="0.3"/>
<polygon points="190.7,47.77 188.33,43.58 193.06,43.58" fill="#0aa35a" stroke="#0aa35a" stroke-width="0.3"/>
<polygon points="194.29,47.77 191.92,43.58 196.65,43.58" fill="#0aa35a" stroke="#0aa35a" stroke-width="0.3"/>
<polygon points="197.87,47.77 195.51,43.57 200.24,43.57" fill="#0aa35a" stroke="#0aa35a" stroke-width="0.3"/>
<polygon points="201.46,47.76 199.09,43.57 203.82,43.57" fill="#0aa35a" stroke="#0aa35a" stroke-width="0.3"/>
<polygon points="205.05,47.76 202.68,43.57 207.41,43.57" fill="#0aa35a" stroke="#0aa35a" stroke-width="0.3"/>
<polygon points="208.63,47.76 206.27,43.57 211,43.57" fill="#0aa35a" stroke="#0aa35a" stroke-width="0.3"/>
<polygon points="212.22,47.76 209.85,43.57 214.59,43.57" fill="#0aa35a" stroke="#0aa35a" stroke-width="0.3"/>
<polygon points="215.81,47.76 213.44,43.56 218.17,43.56" fill="#0aa35a" stroke="#0aa35a" stroke-width="0.3"/>
<polygon points="219.39,47.76 217.03,43.56 221.76,43.56" fill="#0aa35a" stroke="#0aa35a" stroke-width="0.3"/>
<polygon points="222.98,47.75 220.61,43.56 225.34,43.56" fill="#0aa35a" stroke="#0aa35a" stroke-width="0.3"/>
<polygon points="226.57,47.75 224.2,43.56 228.93,43.56" fill="#0aa35a" stroke="#0aa35a" stroke-width="0.3"/>
<polygon points="230.15,47.75 227.79,43.56 232.52,43.56" fill="#0aa35a" stroke="#0aa35a" stroke-width="0.3"/>
<polygon points="233.74,47.75 231.38,43.56 236.11,43.56" fill="#0aa35a" stroke="#0aa35a" stroke-width="0.3"/>
<polygon points="237.33,47.75 234.96,43.56 239.69,43.56" fill="#0aa35a" stroke="#0aa35a" stroke-width="0.3"/>
<polygon points="240.91,47.75 238.55,43.56 243.28,43.56" fill="#0aa35a" stroke="#0aa35a" stroke-width="0.3"/>
<polygon points="244.5,47.75 242.13,43.56 246.87,43.56" fill="#0aa35a" stroke="#0aa35a" stroke-width="0.3"/>
<polygon points="78.9,42.13 76.8,44.53 78.9,46.93 81,44.53" fill="#c86ee0" stroke="#c86ee0" stroke-width="0.3"/>
<polygon points="85.5,32.89 83.4,35.29 85.5,37.69 87.6,35.29" fill="#c86ee0" stroke="#c86ee0" stroke-width="0.3"/>
<polygon points="90.2,29.01 88.1,31.41 90.2,33.81 92.3,31.41" fill="#c86ee0" stroke="#c86ee0" stroke-width="0.3"/>
<polygon points="93.5,27.46 91.4,29.86 93.5,32.26 95.6,29.86" fill="#c86ee0" stroke="#c86ee0" stroke-width="0.3"/>
<polygon points="96.2,26.53 94.1,28.93 96.2,31.33 98.3,28.93" fill="#c86ee0" stroke="#c86ee0" stroke-width="0.3"/>
<polygon points="98.6,25.86 96.5,28.26 98.6,30.66 100.7,28.26" fill="#c86ee0" stroke="#c86ee0" stroke-width="0.3"/>
<polygon points="101,25.29 98.9,27.69 101,30.09 103.1,27.69" fill="#c86ee0" stroke="#c86ee0" stroke-width="0.3"/>
<polygon points="103.4,24.76 101.3,27.16 103.4,29.56 105.5,27.16" fill="#c86ee0" stroke="#c86ee0" stroke-width="0.3"/>
<polygon points="105.8,24.21 103.7,26.61 105.8,29.01 107.9,26.61" fill="#c86ee0" stroke="#c86ee0" stroke-width="0.3"/>
<polygon points="108.2,23.73 106.1,26.13 108.2,28.53 110.3,26.13" fill="#c86ee0" stroke="#c86ee0" stroke-width="0.3"/>
<polygon points="110.6,23.41 108.5,25.81 110.6,28.21 112.7,25.81" fill="#c86ee0" stroke="#c86ee0" stroke-width="0.3"/>
<polygon points="113,23.2 110.9,25.6 113,28 115.1,25.6" fill="#c86ee0" stroke="#c86ee0" stroke-width="0.3"/>
<polygon points="115.4,23.02 113.3,25.42 115.4,27.82 117.5,25.42" fill="#c86ee0" stroke="#c86ee0" stroke-width="0.3"/>
<polygon points="117.8,22.88 115.7,25.28 117.8,27.68 119.9,25.28" fill="#c86ee0" stroke="#c86ee0" stroke-width="0.3"/>
<polygon points="120.2,22.77 118.1,25.17 120.2,27.57 122.3,25.17" fill="#c86ee0" stroke="#c86ee0" stroke-width="0.3"/>
<polygon points="122.6,22.69 120.5,25.09 122.6,27.49 124.7,25.09" fill="#c86ee0" stroke="#c86ee0" stroke-width="0.3"/>
<polygon points="125,22.62 122.9,25.02 125,27.42 127.1,25.02" fill="#c86ee0" stroke="#c86ee0" stroke-width="0.3"/>
<polygon points="128.9,22.52 126.8,24.92 128.9,27.32 131,24.92" fill="#c86ee0" stroke="#c86ee0" stroke-width="0.3"/>
<polygon points="133.1,22.39 131,24.79 133.1,27.19 135.2,24.79" fill="#c86ee0" stroke="#c86ee0" stroke-width="0.3"/>
<polygon points="139.6,22.15 137.5,24.55 139.6,26.95 141.7,24.55" fill="#c86ee0" stroke="#c86ee0" stroke-width="0.3"/>
<polygon points="144.9,21.99 142.8,24.39 144.9,26.79 147,24.39" fill="#c86ee0" stroke="#c86ee0" stroke-width="0.3"/>
<polygon points="150.4,21.91 148.3,24.31 150.4,26.71 152.5,24.31" fill="#c86ee0" stroke="#c86ee0" stroke-width="0.3"/>
<polygon points="154.3,21.9 152.2,24.3 154.3,26.7 156.4,24.3" fill="#c86ee0" stroke="#c86ee0" stroke-width="0.3"/>
<polygon points="158,21.9 155.9,24.3 158,26.7 160.1,24.3" fill="#c86ee0" stroke="#c86ee0" stroke-width="0.3"/>
<polygon points="163.5,21.88 161.4,24.28 163.5,26.68 165.6,24.28" fill="#c86ee0" stroke="#c86ee0" stroke-width="0.3"/>
<polygon points="167,21.88 164.9,24.28 167,26.68 169.1,24.28" fill="#c86ee0" stroke="#c86ee0" stroke-width="0.3"/>
<polygon points="169.6,21.87 167.5,24.27 169.6,26.67 171.7,24.27" fill="#c86ee0" stroke="#c86ee0" stroke-width="0.3"/>
<polygon points="172.6,21.87 170.5,24.27 172.6,26.67 174.7,24.27" fill="#c86ee0" stroke="#c86ee0" stroke-width="0.3"/>
<polygon points="175.6,21.86 173.5,24.26 175.6,26.66 177.7,24.26" fill="#c86ee0" stroke="#c86ee0" stroke-width="0.3"/>
<polygon points="178.6,21.86 176.5,24.26 178.6,26.66 180.7,24.26" fill="#c86ee0" stroke="#c86ee0" stroke-width="0.3"/>
<polygon points="181.5,21.85 179.4,24.25 181.5,26.65 183.6,24.25" fill="#c86ee0" stroke="#c86ee0" stroke-width="0.3"/>
<polygon points="186,21.84 183.9,24.24 186,26.64 188.1,24.24" fill="#c86ee0" stroke="#c86ee0" stroke-width="0.3"/>
<polygon points="190.7,21.84 188.6,24.24 190.7,26.64 192.8,24.24" fill="#c86ee0" stroke="#c86ee0" stroke-width="0.3"/>
<polygon points="194.29,21.83 192.19,24.23 194.29,26.63 196.39,24.23" fill="#c86ee0" stroke="#c86ee0" stroke-width="0.3"/>
<polygon points="197.87,21.83 195.77,24.23 197.87,26.63 199.97,24.23" fill="#c86ee0" stroke="#c86ee0" stroke-width="0.3"/>
<polygon points="201.46,21.83 199.36,24.23 201.46,26.63 203.56,24.23" fill="#c86ee0" stroke="#c86ee0" stroke-width="0.3"/>
<polygon points="205.05,21.82 202.95,24.22 205.05,26.62 207.15,24.22" fill="#c86ee0" stroke="#c86ee0" stroke-width="0.3"/>
<polygon points="208.63,21.82 206.53,24.22 208.63,26.62 210.73,24.22" fill="#c86ee0" stroke="#c86ee0" stroke-width="0.3"/>
<polygon points="212.22,21.82 210.12,24.22 212.22,26.62 214.32,24.22" fill="#c86ee0" stroke="#c86ee0" stroke-width="0.3"/>
<polygon points="215.81,21.81 213.71,24.21 215.81,26.61 217.91,24.21" fill="#c86ee0" stroke="#c86ee0" stroke-width="0.3"/>
<polygon points="219.39,21.81 217.29,24.21 219.39,26.61 221.49,24.21" fill="#c86ee0" stroke="#c86ee0" stroke-width="0.3"/>
<polygon points="222.98,21.81 220.88,24.21 222.98,26.61 225.08,24.21" fill="#c86ee0" stroke="#c86ee0" stroke-width="0.3"/>
<polygon points="226.57,21.81 224.47,24.21 226.57,26.61 228.67,24.21" fill="#c86ee0" stroke="#c86ee0" stroke-width="0.3"/>
<polygon points="230.15,21.81 228.05,24.21 230.15,26.61 232.25,24.21" fill="#c86ee0" stroke="#c86ee0" stroke-width="0.3"/>
<polygon points="233.74,21.8 231.64,24.2 233.74,26.6 235.84,24.2" fill="#c86ee0" stroke="#c86ee0" stroke-width="0.3"/>
<polygon points="237.33,21.8 235.23,24.2 237.33,26.6 239.43,24.2" fill="#c86ee0" stroke="#c86ee0" stroke-width="0.3"/>
<polygon points="240.91,21.8 238.81,24.2 240.91,26.6 243.01,24.2" fill="#c86ee0" stroke="#c86ee0" stroke-width="0.3"/>
<polygon points="244.5,21.8 242.4,24.2 244.5,26.6 246.6,24.2" fill="#c86ee0" stroke="#c86ee0" stroke-width="0.3"/>
<polygon points="245.8,21.8 243.7,24.2 245.8,26.6 247.9,24.2" fill="#c86ee0" stroke="#c86ee0" stroke-width="0.3"/>
<polygon points="247,21.8 244.9,24.2 247,26.6 249.1,24.2" fill="#c86ee0" stroke="#c86ee0" stroke-width="0.3"/>
<polygon points="248.2,21.8 246.1,24.2 248.2,26.6 250.3,24.2" fill="#c86ee0" stroke="#c86ee0" stroke-width="0.3"/>
<polygon points="249.4,21.8 247.3,24.2 249.4,26.6 251.5,24.2" fill="#c86ee0" stroke="#c86ee0" stroke-width="0.3"/>
<polygon points="250.6,21.8 248.5,24.2 250.6,26.6 252.7,24.2" fill="#c86ee0" stroke="#c86ee0" stroke-width="0.3"/>
<polygon points="251.8,21.8 249.7,24.2 251.8,26.6 253.9,24.2" fill="#c86ee0" stroke="#c86ee0" stroke-width="0.3"/>
<polygon points="253,21.8 250.9,24.2 253,26.6 255.1,24.2" fill="#c86ee0" stroke="#c86ee0" stroke-width="0.3"/>
<polygon points="55.63,168.48 53.42,171 55.63,173.52 57.83,171" fill="#c86ee0" stroke="#c86ee0" stroke-width="0.5"/>
<line x1="75.8" y1="167.1" x2="93.7" y2="167.1" stroke="#404040" stroke-width="1.3"/>
<rect x="82.85" y="165.2" width="3.8" height="3.8" fill="#404040" stroke="#404040" stroke-width="0.3"/>
<text x="94.9" y="170.1" font-size="7.4">NPB</text>
<line x1="129.4" y1="167.1" x2="146.8" y2="167.1" stroke="#f8303a" stroke-width="1.3"/>
<circle cx="138.1" cy="167.1" r="2" fill="#f8303a" stroke="#f8303a" stroke-width="0.3"/>
<text x="148.1" y="170.1" font-size="7.4">NPGB-1.2</text>
<line x1="186.4" y1="167.1" x2="204.3" y2="167.1" stroke="#1560e8" stroke-width="1.3"/>
<polygon points="195.35,164.8 193.15,168.7 197.55,168.7" fill="#1560e8" stroke="#1560e8" stroke-width="0.3"/>
<text x="205.6" y="170.1" font-size="7.4">NPGB-1.6</text>
<line x1="75.8" y1="176.7" x2="93.7" y2="176.7" stroke="#0aa35a" stroke-width="1.3"/>
<polygon points="84.75,179 82.55,175.1 86.95,175.1" fill="#0aa35a" stroke="#0aa35a" stroke-width="0.3"/>
<text x="94.9" y="179.7" font-size="7.4">NPGB-2.4</text>
<line x1="129.4" y1="176.7" x2="146.8" y2="176.7" stroke="#c86ee0" stroke-width="1.3"/>
<polygon points="138.1,174.42 136.11,176.7 138.1,178.98 140.1,176.7" fill="#c86ee0" stroke="#c86ee0" stroke-width="0.3"/>
<text x="148.1" y="179.7" font-size="7.4">NPGB-3.2</text>
<path d="M326,19.6 H545.9 V184.2" fill="none" stroke="#111" stroke-width="1.05"/>
<path d="M326,19.1 V184.2 H546.4" fill="none" stroke="#000" stroke-width="1.3"/>
<line x1="322.6" y1="184.3" x2="326" y2="184.3" stroke="#000" stroke-width="1.1"/>
<text x="320.4" y="187.2" font-size="8.4" font-weight="bold" text-anchor="end">0.00000</text>
<line x1="322.6" y1="154.38" x2="326" y2="154.38" stroke="#000" stroke-width="1.1"/>
<text x="320.4" y="157.28" font-size="8.4" font-weight="bold" text-anchor="end">0.00005</text>
<line x1="322.6" y1="124.46" x2="326" y2="124.46" stroke="#000" stroke-width="1.1"/>
<text x="320.4" y="127.36" font-size="8.4" font-weight="bold" text-anchor="end">0.00010</text>
<line x1="322.6" y1="94.54" x2="326" y2="94.54" stroke="#000" stroke-width="1.1"/>
<text x="320.4" y="97.44" font-size="8.4" font-weight="bold" text-anchor="end">0.00015</text>
<line x1="322.6" y1="64.62" x2="326" y2="64.62" stroke="#000" stroke-width="1.1"/>
<text x="320.4" y="67.52" font-size="8.4" font-weight="bold" text-anchor="end">0.00020</text>
<line x1="322.6" y1="34.7" x2="326" y2="34.7" stroke="#000" stroke-width="1.1"/>
<text x="320.4" y="37.6" font-size="8.4" font-weight="bold" text-anchor="end">0.00025</text>
<line x1="324" y1="169.34" x2="326" y2="169.34" stroke="#000" stroke-width="1.0"/>
<line x1="324" y1="139.42" x2="326" y2="139.42" stroke="#000" stroke-width="1.0"/>
<line x1="324" y1="109.5" x2="326" y2="109.5" stroke="#000" stroke-width="1.0"/>
<line x1="324" y1="79.58" x2="326" y2="79.58" stroke="#000" stroke-width="1.0"/>
<line x1="324" y1="49.66" x2="326" y2="49.66" stroke="#000" stroke-width="1.0"/>
<line x1="324" y1="19.74" x2="326" y2="19.74" stroke="#000" stroke-width="1.0"/>
<line x1="326.3" y1="184.2" x2="326.3" y2="187.6" stroke="#000" stroke-width="1.1"/>
<text x="326.3" y="196.5" font-size="8.5" font-weight="bold" text-anchor="middle">100</text>
<line x1="387" y1="184.2" x2="387" y2="187.6" stroke="#000" stroke-width="1.1"/>
<text x="387" y="196.5" font-size="8.5" font-weight="bold" text-anchor="middle">1000</text>
<line x1="447.7" y1="184.2" x2="447.7" y2="187.6" stroke="#000" stroke-width="1.1"/>
<text x="447.7" y="196.1" font-size="7.85" text-anchor="middle" font-family="Liberation Sans, sans-serif" stroke="#111" stroke-width="0.25">10,000</text>
<line x1="508.4" y1="184.2" x2="508.4" y2="187.6" stroke="#000" stroke-width="1.1"/>
<text x="510.4" y="196.1" font-size="7.85" text-anchor="middle" font-family="Liberation Sans, sans-serif" stroke="#111" stroke-width="0.25">100,000</text>
<line x1="344.57" y1="184.2" x2="344.57" y2="186.2" stroke="#000" stroke-width="0.8"/>
<line x1="355.26" y1="184.2" x2="355.26" y2="186.2" stroke="#000" stroke-width="0.8"/>
<line x1="362.85" y1="184.2" x2="362.85" y2="186.2" stroke="#000" stroke-width="0.8"/>
<line x1="368.73" y1="184.2" x2="368.73" y2="186.2" stroke="#000" stroke-width="0.8"/>
<line x1="373.53" y1="184.2" x2="373.53" y2="186.2" stroke="#000" stroke-width="0.8"/>
<line x1="377.6" y1="184.2" x2="377.6" y2="186.2" stroke="#000" stroke-width="0.8"/>
<line x1="381.12" y1="184.2" x2="381.12" y2="186.2" stroke="#000" stroke-width="0.8"/>
<line x1="384.22" y1="184.2" x2="384.22" y2="186.2" stroke="#000" stroke-width="0.8"/>
<line x1="405.27" y1="184.2" x2="405.27" y2="186.2" stroke="#000" stroke-width="0.8"/>
<line x1="415.96" y1="184.2" x2="415.96" y2="186.2" stroke="#000" stroke-width="0.8"/>
<line x1="423.55" y1="184.2" x2="423.55" y2="186.2" stroke="#000" stroke-width="0.8"/>
<line x1="429.43" y1="184.2" x2="429.43" y2="186.2" stroke="#000" stroke-width="0.8"/>
<line x1="434.23" y1="184.2" x2="434.23" y2="186.2" stroke="#000" stroke-width="0.8"/>
<line x1="438.3" y1="184.2" x2="438.3" y2="186.2" stroke="#000" stroke-width="0.8"/>
<line x1="441.82" y1="184.2" x2="441.82" y2="186.2" stroke="#000" stroke-width="0.8"/>
<line x1="444.92" y1="184.2" x2="444.92" y2="186.2" stroke="#000" stroke-width="0.8"/>
<line x1="465.97" y1="184.2" x2="465.97" y2="186.2" stroke="#000" stroke-width="0.8"/>
<line x1="476.66" y1="184.2" x2="476.66" y2="186.2" stroke="#000" stroke-width="0.8"/>
<line x1="484.25" y1="184.2" x2="484.25" y2="186.2" stroke="#000" stroke-width="0.8"/>
<line x1="490.13" y1="184.2" x2="490.13" y2="186.2" stroke="#000" stroke-width="0.8"/>
<line x1="494.93" y1="184.2" x2="494.93" y2="186.2" stroke="#000" stroke-width="0.8"/>
<line x1="499" y1="184.2" x2="499" y2="186.2" stroke="#000" stroke-width="0.8"/>
<line x1="502.52" y1="184.2" x2="502.52" y2="186.2" stroke="#000" stroke-width="0.8"/>
<line x1="505.62" y1="184.2" x2="505.62" y2="186.2" stroke="#000" stroke-width="0.8"/>
<line x1="526.67" y1="184.2" x2="526.67" y2="186.2" stroke="#000" stroke-width="0.8"/>
<line x1="537.36" y1="184.2" x2="537.36" y2="186.2" stroke="#000" stroke-width="0.8"/>
<line x1="544.95" y1="184.2" x2="544.95" y2="186.2" stroke="#000" stroke-width="0.8"/>
<text x="288.7" y="101.9" font-size="11.2" text-anchor="middle" transform="rotate(-90 288.7 101.9)" letter-spacing="-0.15">Differential Intrusion (nm·mL/g)</text>
<text x="435.5" y="211.4" font-size="11.75" text-anchor="middle" xml:space="preserve">Pore  Diameter (nm)</text>
<text x="307" y="21.2" font-size="15.2" text-anchor="middle">(b)</text>
<polyline points="326.3,184.1 328.55,184.1 330.79,184.1 333.02,184.1 335.23,184.1 337.43,184.1 339.61,184.1 341.78,184.1 343.94,184.1 346.08,184.1 348.2,184.1 350.32,184.1 352.42,184.1 354.5,184.1 356.57,184.1 358.63,184.1 360.67,184.1 362.69,184.1 364.71,184.1 366.7,184.1 368.69,184.1 370.66,184.1 372.61,184.1 374.55,184.1 376.48,184.1 378.39,184.1 380.29,184.1 382.17,184.1 384.04,184.1 385.89,184.1 387.73,184.1 389.55,184.1 391.36,184.1 393.16,184.1 394.94,184.1 396.7,184.1 398.45,184.1 400.19,184.1 401.91,184.1 403.61,184.1 405.31,184.1 406.98,184.1 408.64,184.1 410.29,184.1 411.92,184.1 413.54,184.1 415.14,184.1 416.73,184.1 418.3,184.1 419.85,184.1 421.39,184.1 422.92,184.1 424.43,184.1 425.93,184.1 427.41,184.1 428.87,184.1 430.32,184.1 431.76,184.1 433.18,184.1 434.58,184.1 435.97,184.1 437.35,184.1 438.71,184.1 440.05,184.1 441.38,184.1 442.69,184.1 443.99,184.1 445.27,184.1 446.54,184.1 447.79,184.1 449.02,184.1 450.24,184.1 451.45,184.1 452.63,184.1 453.81,184.1 454.96,184.1 456.11,184.1 457.23,184.1 458.34,184.1 459.44,184.1 460.52,184.1 461.58,184.1 462.63,184.1 463.66,184.1 464.67,184.1 465.67,184.1 466.66,184.1 467.62,184.1 468.58,184.1 469.51,184.1 470.43,184.1 471.34,184.1 472.23,184.1 473.1,184.1 473.95,184.1 474.79,184.1 475.62,184.1 476.43,184.1 477.22,184.1 477.99,184.1 478.75,184.1 479.49,184.1 480.22,184.1 480.93,184.1 481.63,184.1 482.3,184.1 482.97,184.1 483.61,184.1 484.24,184.1 484.85,184.1 485.45,184.1 486.03,184.1 486.59,184.1 487.14,184.1 487.67,184.1 488.18,184.1 488.68,184.1 489.16,184.1 489.63,184.1 490.07,184.1 490.5,184.1 490.92,184.1 491.32,184.1 491.7,184.1 492.06,184.1 492.41,184.1 492.74,184.1 493.05,184.1 493.35,184.09 493.64,184.09 493.92,184.09 494.18,184.08 494.43,184.08 494.67,184.07 494.91,184.06 495.14,184.05 495.36,184.05 495.58,184.04 495.79,184.03 496,184.02 496.21,184.01 496.41,183.99 496.62,183.98 496.83,183.97 497.04,183.96 497.25,183.94 497.47,183.93 497.69,183.91 497.91,183.88 498.13,183.84 498.34,183.77 498.55,183.7 498.76,183.61 498.97,183.51 499.17,183.41 499.38,183.29 499.58,183.17 499.78,183.04 499.98,182.9 500.18,182.77 500.38,182.63 500.58,182.49 500.78,182.35 500.98,182.21 501.17,182.07 501.38,181.94 501.58,181.82 501.78,181.7 501.99,181.59 502.19,181.48 502.39,181.37 502.59,181.25 502.78,181.12 502.98,180.99 503.17,180.87 503.36,180.74 503.56,180.61 503.75,180.48 503.94,180.35 504.14,180.23 504.34,180.11 504.54,180 504.74,179.89 504.95,179.79 505.16,179.7 505.38,179.62 505.6,179.56 505.83,179.5 506.07,179.46 506.31,179.43 506.56,179.41 506.82,179.4 507.09,179.38 507.37,179.37 507.66,179.35 507.95,179.34 508.26,179.33 508.57,179.31 508.89,179.3 509.21,179.29 509.54,179.28 509.87,179.27 510.21,179.26 510.55,179.25 510.89,179.24 511.23,179.24 511.58,179.23 511.92,179.22 512.27,179.21 512.62,179.21 512.97,179.2 513.31,179.2 513.65,179.19 513.99,179.19 514.33,179.19 514.66,179.18 514.99,179.18 515.31,179.18 515.63,179.18 515.94,179.18 516.25,179.18 516.56,179.18 516.86,179.18 517.16,179.18 517.47,179.19 517.77,179.19 518.07,179.19 518.36,179.19 518.66,179.2 518.96,179.2 519.25,179.2 519.55,179.21 519.84,179.21 520.13,179.22 520.43,179.22 520.72,179.23 521.01,179.23 521.3,179.24 521.59,179.24 521.88,179.25 522.17,179.26 522.45,179.26 522.74,179.27 523.03,179.28 523.32,179.28 523.6,179.29 523.89,179.3 524.17,179.3 524.46,179.31 524.74,179.32 525.03,179.33 525.31,179.34 525.59,179.35 525.87,179.36 526.15,179.37 526.43,179.39 526.71,179.4 526.99,179.42 527.27,179.43 527.55,179.45 527.83,179.46 528.1,179.48 528.38,179.5 528.66,179.52 528.93,179.54 529.21,179.56 529.49,179.58 529.76,179.6 530.04,179.62 530.31,179.64 530.59,179.67 530.86,179.69 531.14,179.71 531.41,179.74 531.69,179.77 531.97,179.8 532.25,179.84 532.53,179.88 532.82,179.92 533.1,179.97 533.38,180.02 533.66,180.07 533.95,180.12 534.23,180.18 534.51,180.24 534.79,180.3 535.07,180.36 535.35,180.42 535.62,180.48 535.89,180.54 536.17,180.61 536.43,180.67 536.7,180.73 536.96,180.8 537.22,180.86 537.48,180.92 537.73,180.98 537.98,181.05 538.22,181.1 538.46,181.16 538.7,181.22 538.93,181.29 539.17,181.35 539.4,181.41 539.63,181.47 539.86,181.54 540.08,181.6 540.3,181.66 540.52,181.73 540.74,181.8 540.96,181.86 541.17,181.93 541.38,182 541.59,182.06 541.8,182.13 542.01,182.2 542.21,182.27 542.41,182.34 542.61,182.41 542.8,182.48" fill="none" stroke="#111" stroke-width="1.25" stroke-linejoin="round" stroke-linecap="round"/>
<circle cx="506.4" cy="179.42" r="1.3" fill="#111" stroke="#111" stroke-width="0.6"/>
<circle cx="542.8" cy="182.48" r="1.3" fill="#111" stroke="#111" stroke-width="0.6"/>
<line x1="350" y1="183.5" x2="489" y2="183.5" stroke="#f5222d" stroke-width="1.2"/>
<polygon points="355.5,181.76 354.51,183.52 356.49,183.52" fill="#fff" stroke="#f5222d" stroke-width="0.55"/>
<polygon points="361,181.76 360.01,183.52 361.99,183.52" fill="#fff" stroke="#f5222d" stroke-width="0.55"/>
<polygon points="366.5,181.76 365.51,183.52 367.49,183.52" fill="#fff" stroke="#f5222d" stroke-width="0.55"/>
<polygon points="372,181.76 371.01,183.52 372.99,183.52" fill="#fff" stroke="#f5222d" stroke-width="0.55"/>
<polygon points="377.5,181.76 376.51,183.52 378.49,183.52" fill="#fff" stroke="#f5222d" stroke-width="0.55"/>
<polygon points="383,181.76 382.01,183.52 383.99,183.52" fill="#fff" stroke="#f5222d" stroke-width="0.55"/>
<polygon points="388.5,181.76 387.51,183.52 389.49,183.52" fill="#fff" stroke="#f5222d" stroke-width="0.55"/>
<polygon points="394,181.76 393.01,183.52 394.99,183.52" fill="#fff" stroke="#f5222d" stroke-width="0.55"/>
<polygon points="399.5,181.76 398.51,183.52 400.49,183.52" fill="#fff" stroke="#f5222d" stroke-width="0.55"/>
<polygon points="405,181.76 404.01,183.52 405.99,183.52" fill="#fff" stroke="#f5222d" stroke-width="0.55"/>
<polygon points="410.5,181.76 409.51,183.52 411.49,183.52" fill="#fff" stroke="#f5222d" stroke-width="0.55"/>
<polygon points="416,181.76 415.01,183.52 416.99,183.52" fill="#fff" stroke="#f5222d" stroke-width="0.55"/>
<polygon points="421.5,181.76 420.51,183.52 422.49,183.52" fill="#fff" stroke="#f5222d" stroke-width="0.55"/>
<polygon points="427,181.76 426.01,183.52 427.99,183.52" fill="#fff" stroke="#f5222d" stroke-width="0.55"/>
<polygon points="432.5,181.76 431.51,183.52 433.49,183.52" fill="#fff" stroke="#f5222d" stroke-width="0.55"/>
<polygon points="438,181.76 437.01,183.52 438.99,183.52" fill="#fff" stroke="#f5222d" stroke-width="0.55"/>
<polygon points="443.5,181.76 442.51,183.52 444.49,183.52" fill="#fff" stroke="#f5222d" stroke-width="0.55"/>
<polygon points="449,181.76 448.01,183.52 449.99,183.52" fill="#fff" stroke="#f5222d" stroke-width="0.55"/>
<polygon points="454.5,181.76 453.51,183.52 455.49,183.52" fill="#fff" stroke="#f5222d" stroke-width="0.55"/>
<polygon points="460,181.76 459.01,183.52 460.99,183.52" fill="#fff" stroke="#f5222d" stroke-width="0.55"/>
<polygon points="465.5,181.76 464.51,183.52 466.49,183.52" fill="#fff" stroke="#f5222d" stroke-width="0.55"/>
<polygon points="471,181.76 470.01,183.52 471.99,183.52" fill="#fff" stroke="#f5222d" stroke-width="0.55"/>
<polygon points="476.5,181.76 475.51,183.52 477.49,183.52" fill="#fff" stroke="#f5222d" stroke-width="0.55"/>
<polygon points="482,181.76 481.01,183.52 482.99,183.52" fill="#fff" stroke="#f5222d" stroke-width="0.55"/>
<polyline points="486,184.1 486.21,184.1 486.42,184.1 486.63,184.1 486.84,184.1 487.04,184.1 487.24,184.1 487.44,184.1 487.63,184.1 487.82,184.1 488.01,184.1 488.19,184.1 488.36,184.1 488.53,184.1 488.69,184.1 488.85,184.1 489,184.1 489.14,184.08 489.28,184.02 489.41,183.92 489.54,183.78 489.67,183.6 489.8,183.39 489.92,183.15 490.04,182.88 490.15,182.58 490.27,182.26 490.38,181.92 490.49,181.55 490.6,181.16 490.71,180.76 490.81,180.34 490.92,179.91 491.02,179.47 491.13,179.02 491.23,178.57 491.33,178.11 491.43,177.65 491.53,177.19 491.64,176.73 491.74,176.27 491.84,175.82 491.94,175.38 492.05,174.95 492.15,174.54 492.26,174.13 492.37,173.75 492.47,173.38 492.59,173.03 492.69,172.67 492.8,172.31 492.91,171.95 493.01,171.59 493.12,171.23 493.22,170.86 493.33,170.5 493.43,170.13 493.53,169.76 493.64,169.39 493.74,169.03 493.84,168.66 493.94,168.29 494.05,167.92 494.15,167.55 494.25,167.18 494.36,166.82 494.46,166.45 494.57,166.09 494.68,165.72 494.79,165.36 494.89,165 495.01,164.65 495.12,164.29 495.23,163.94 495.35,163.59 495.46,163.25 495.58,162.9 495.71,162.56 495.83,162.23 495.96,161.9 496.08,161.57 496.22,161.24 496.35,160.9 496.49,160.57 496.63,160.24 496.77,159.9 496.92,159.57 497.07,159.24 497.22,158.91 497.37,158.58 497.52,158.25 497.68,157.92 497.84,157.6 498,157.28 498.16,156.96 498.32,156.64 498.48,156.33 498.64,156.03 498.8,155.72 498.96,155.43 499.13,155.13 499.29,154.85 499.45,154.57 499.61,154.29 499.78,154.02 499.94,153.76 500.1,153.51 500.26,153.27 500.41,153.03 500.57,152.8 500.72,152.57 500.88,152.35 501.04,152.13 501.19,151.91 501.35,151.69 501.51,151.48 501.66,151.27 501.82,151.06 501.98,150.86 502.13,150.66 502.29,150.47 502.45,150.29 502.61,150.11 502.77,149.94 502.92,149.77 503.08,149.61 503.24,149.46 503.4,149.32 503.56,149.18 503.72,149.06 503.88,148.94 504.04,148.82 504.2,148.7 504.36,148.58 504.52,148.46 504.68,148.34 504.84,148.23 505,148.12 505.16,148.02 505.33,147.93 505.49,147.85 505.66,147.77 505.82,147.71 505.99,147.67 506.16,147.64 506.34,147.62 506.51,147.62 506.69,147.65 506.86,147.69 507.04,147.74 507.22,147.81 507.4,147.9 507.59,148 507.77,148.11 507.96,148.23 508.14,148.36 508.33,148.5 508.52,148.65 508.72,148.79 508.91,148.95 509.11,149.1 509.31,149.26 509.51,149.42 509.72,149.58 509.93,149.73 510.14,149.88 510.36,150.04 510.58,150.22 510.81,150.4 511.04,150.59 511.27,150.78 511.51,150.99 511.75,151.2 511.99,151.42 512.24,151.65 512.49,151.88 512.74,152.12 512.99,152.37 513.24,152.61 513.49,152.87 513.75,153.12 514,153.39 514.26,153.65 514.51,153.92 514.76,154.19 515.02,154.46 515.27,154.73 515.52,155 515.77,155.28 516.01,155.55 516.25,155.82 516.49,156.1 516.73,156.37 516.96,156.64 517.19,156.91 517.42,157.19 517.65,157.47 517.88,157.75 518.11,158.05 518.34,158.34 518.57,158.65 518.8,158.95 519.03,159.26 519.26,159.57 519.49,159.89 519.71,160.21 519.94,160.53 520.16,160.85 520.39,161.17 520.61,161.5 520.83,161.82 521.05,162.15 521.27,162.47 521.49,162.8 521.7,163.12 521.92,163.44 522.13,163.76 522.34,164.08 522.55,164.39 522.76,164.7 522.96,165.01 523.16,165.31 523.36,165.61 523.56,165.9 523.75,166.19 523.94,166.47 524.13,166.75 524.32,167.02 524.5,167.29 524.68,167.56 524.86,167.83 525.03,168.09 525.2,168.36 525.37,168.62 525.54,168.88 525.7,169.13 525.86,169.39 526.03,169.64 526.19,169.89 526.35,170.14 526.51,170.39 526.67,170.64 526.83,170.88 526.99,171.12 527.15,171.36 527.31,171.6 527.47,171.84 527.63,172.07 527.8,172.3 527.97,172.54 528.13,172.77 528.3,172.99 528.48,173.22 528.65,173.44 528.82,173.67 528.99,173.89 529.16,174.11 529.33,174.33 529.5,174.55 529.68,174.76 529.85,174.98 530.02,175.19 530.19,175.4 530.37,175.61 530.54,175.82 530.72,176.03 530.9,176.23 531.08,176.43 531.26,176.63 531.44,176.83 531.63,177.03 531.82,177.22 532.01,177.41 532.2,177.6 532.4,177.79 532.6,177.98 532.8,178.16 533.01,178.35 533.22,178.54 533.44,178.73 533.66,178.92 533.89,179.11 534.11,179.3 534.34,179.49 534.58,179.67 534.81,179.86 535.05,180.04 535.29,180.22 535.53,180.4 535.77,180.57 536.01,180.74 536.25,180.9 536.49,181.06 536.73,181.21 536.97,181.36 537.2,181.5 537.44,181.63 537.67,181.75 537.9,181.86 538.13,181.97 538.35,182.07 538.57,182.16 538.8,182.25 539.02,182.35 539.24,182.44 539.46,182.53 539.68,182.61 539.9,182.69 540.12,182.77 540.34,182.85 540.56,182.92 540.78,182.99 540.99,183.06 541.21,183.12 541.43,183.17 541.64,183.23 541.86,183.27 542.07,183.31 542.29,183.35 542.5,183.38" fill="none" stroke="#f5222d" stroke-width="1.25" stroke-linejoin="round" stroke-linecap="round"/>
<polygon points="496,160.17 494.46,162.9 497.54,162.9" fill="#fff" stroke="#f5222d" stroke-width="0.7"/>
<polygon points="506.4,146.01 504.86,148.74 507.94,148.74" fill="#fff" stroke="#f5222d" stroke-width="0.7"/>
<polygon points="542.5,181.77 540.96,184.5 544.04,184.5" fill="#fff" stroke="#f5222d" stroke-width="0.7"/>
<polyline points="326.3,184.1 328.53,184.1 330.67,184.1 332.73,184.09 334.7,184.09 336.58,184.08 338.37,184.07 340.07,184.06 341.67,184.05 343.18,184.04 344.59,184.02 345.9,184 347.12,183.98 348.23,183.96 349.24,183.94 350.14,183.91 350.92,183.84 351.6,183.71 352.21,183.54 352.78,183.34 353.36,183.12 353.99,182.9 354.64,182.65 355.29,182.33 355.94,181.97 356.6,181.61 357.28,181.29 357.99,181.04 358.72,180.91 359.51,180.83 360.35,180.78 361.22,180.73 362.1,180.7 362.98,180.66 363.85,180.62 364.67,180.55 365.45,180.47 366.19,180.32 366.92,180.11 367.63,179.85 368.32,179.57 368.99,179.27 369.65,178.98 370.28,178.68 370.87,178.33 371.42,177.94 371.97,177.55 372.53,177.19 373.15,176.92 373.84,176.76 374.64,176.66 375.54,176.57 376.5,176.5 377.52,176.45 378.55,176.39 379.58,176.34 380.58,176.29 381.53,176.23 382.4,176.15 383.22,176.08 384,176 384.77,175.91 385.52,175.83 386.28,175.74 387.05,175.66 387.85,175.58 388.66,175.49 389.48,175.42 390.31,175.34 391.14,175.26 391.99,175.18 392.84,175.09 393.71,175 394.59,174.9 395.49,174.79 396.4,174.67 397.34,174.55 398.28,174.42 399.23,174.28 400.17,174.14 401.11,174 402.04,173.85 402.95,173.71 403.84,173.55 404.72,173.39 405.58,173.22 406.45,173.04 407.34,172.87 408.24,172.71 409.16,172.55 410.13,172.4 411.15,172.25 412.23,172.1 413.36,171.94 414.51,171.79 415.67,171.64 416.83,171.51 417.98,171.38 419.09,171.27 420.16,171.17 421.16,171.09 422.1,171.04 422.99,170.98 423.83,170.93 424.66,170.88 425.47,170.84 426.28,170.81 427.09,170.79 427.93,170.78 428.81,170.86 429.71,171.12 430.64,171.49 431.56,171.93 432.47,172.39 433.36,172.81 434.21,173.16 435.01,173.37 435.73,173.4 436.4,173.2 437.03,172.78 437.63,172.23 438.2,171.59 438.78,170.92 439.37,170.27 439.98,169.71 440.61,169.17 441.24,168.56 441.87,167.92 442.51,167.31 443.17,166.78 443.83,166.37 444.52,166.14 445.23,166.11 445.98,166.17 446.75,166.29 447.54,166.43 448.35,166.58 449.15,166.71 449.94,166.79 450.72,166.82 451.48,166.73 452.23,166.54 452.97,166.26 453.72,165.94 454.46,165.6 455.22,165.26 456,164.97 456.79,164.72 457.6,164.47 458.42,164.23 459.25,163.99 460.09,163.75 460.93,163.51 461.77,163.27 462.6,163.04 463.43,162.8 464.28,162.58 465.13,162.36 465.99,162.14 466.83,161.92 467.66,161.69 468.47,161.44 469.23,161.18 469.97,160.9 470.68,160.59 471.38,160.27 472.05,159.92 472.71,159.57 473.35,159.19 473.97,158.81 474.56,158.4 475.13,157.98 475.67,157.53 476.21,157.06 476.74,156.57 477.28,156.07 477.84,155.56 478.41,154.95 478.98,154.23 479.56,153.45 480.14,152.69 480.73,152.02 481.34,151.49 481.97,151.16 482.64,151.12 483.37,151.34 484.17,151.75 484.99,152.29 485.81,152.86 486.6,153.4 487.33,153.83 487.96,154.07 488.48,154.04 488.95,153.66 489.38,152.99 489.78,152.07 490.15,150.97 490.51,149.75 490.85,148.45 491.2,147.15 491.55,145.89 491.92,144.74 492.29,143.69 492.65,142.62 493.01,141.55 493.37,140.45 493.72,139.35 494.08,138.23 494.44,137.1 494.8,135.96 495.17,134.81 495.55,133.65 495.95,132.48 496.36,131.27 496.79,129.99 497.24,128.66 497.69,127.29 498.16,125.91 498.63,124.53 499.11,123.18 499.58,121.87 500.04,120.63 500.5,119.47 500.93,118.42 501.36,117.49 501.75,116.7 502.12,115.97 502.48,115.3 502.83,114.68 503.18,114.1 503.56,113.56 503.96,113.05 504.4,112.52 504.88,111.96 505.38,111.42 505.9,110.95 506.42,110.62 506.94,110.48 507.46,110.49 507.99,110.54 508.52,110.6 509.03,110.69 509.52,110.78 509.96,110.93 510.38,111.15 510.79,111.43 511.22,111.76 511.69,112.14 512.22,112.68 512.79,113.38 513.39,114.2 514.01,115.12 514.62,116.12 515.23,117.15 515.81,118.2 516.36,119.23 516.86,120.21 517.3,121.14 517.72,122.1 518.1,123.07 518.48,124.06 518.83,125.05 519.18,126.05 519.53,127.04 519.87,128.03 520.23,129.01 520.6,129.97 520.97,130.9 521.35,131.81 521.72,132.71 522.1,133.6 522.48,134.49 522.86,135.39 523.24,136.31 523.62,137.26 524,138.24 524.38,139.27 524.76,140.35 525.14,141.47 525.52,142.63 525.9,143.8 526.28,144.99 526.67,146.18 527.05,147.36 527.44,148.53 527.83,149.67 528.23,150.77 528.63,151.83 529.04,152.87 529.45,153.89 529.87,154.91 530.28,155.9 530.71,156.89 531.13,157.86 531.56,158.83 531.99,159.78 532.42,160.73 532.85,161.67 533.29,162.6 533.72,163.52 534.16,164.43 534.6,165.33 535.05,166.23 535.5,167.11 535.96,167.99 536.44,168.87 536.93,169.74 537.46,170.65 538.04,171.6 538.64,172.57 539.26,173.53 539.86,174.45 540.43,175.31 540.95,176.09 541.42,176.77 541.79,177.31 542.1,177.75 542.38,178.14 542.61,178.46 542.8,178.7" fill="none" stroke="#1e50e6" stroke-width="1.25" stroke-linejoin="round" stroke-linecap="round"/>
<polygon points="358.6,179 356.92,180.92 358.6,182.84 360.28,180.92" fill="#1e50e6" stroke="#1e50e6" stroke-width="0.3"/>
<polygon points="365.2,178.58 363.52,180.5 365.2,182.42 366.88,180.5" fill="#1e50e6" stroke="#1e50e6" stroke-width="0.3"/>
<polygon points="373.7,174.86 372.02,176.78 373.7,178.7 375.38,176.78" fill="#1e50e6" stroke="#1e50e6" stroke-width="0.3"/>
<polygon points="382.1,174.26 380.42,176.18 382.1,178.1 383.78,176.18" fill="#1e50e6" stroke="#1e50e6" stroke-width="0.3"/>
<polygon points="387.8,173.66 386.12,175.58 387.8,177.5 389.48,175.58" fill="#1e50e6" stroke="#1e50e6" stroke-width="0.3"/>
<polygon points="394.4,173 392.72,174.92 394.4,176.84 396.08,174.92" fill="#1e50e6" stroke="#1e50e6" stroke-width="0.3"/>
<polygon points="402.5,171.86 400.82,173.78 402.5,175.7 404.18,173.78" fill="#1e50e6" stroke="#1e50e6" stroke-width="0.3"/>
<polygon points="410.1,170.48 408.42,172.4 410.1,174.32 411.78,172.4" fill="#1e50e6" stroke="#1e50e6" stroke-width="0.3"/>
<polygon points="421.4,169.16 419.72,171.08 421.4,173 423.08,171.08" fill="#1e50e6" stroke="#1e50e6" stroke-width="0.3"/>
<polygon points="428,168.86 426.32,170.78 428,172.7 429.68,170.78" fill="#1e50e6" stroke="#1e50e6" stroke-width="0.3"/>
<polygon points="444.9,164.18 443.22,166.1 444.9,168.02 446.58,166.1" fill="#1e50e6" stroke="#1e50e6" stroke-width="0.3"/>
<polygon points="450.6,164.9 448.92,166.82 450.6,168.74 452.28,166.82" fill="#1e50e6" stroke="#1e50e6" stroke-width="0.3"/>
<polygon points="456.2,162.98 454.52,164.9 456.2,166.82 457.88,164.9" fill="#1e50e6" stroke="#1e50e6" stroke-width="0.3"/>
<polygon points="462.8,161.06 461.12,162.98 462.8,164.9 464.48,162.98" fill="#1e50e6" stroke="#1e50e6" stroke-width="0.3"/>
<polygon points="469.4,159.2 467.72,161.12 469.4,163.04 471.08,161.12" fill="#1e50e6" stroke="#1e50e6" stroke-width="0.3"/>
<polygon points="474.1,156.8 472.42,158.72 474.1,160.64 475.78,158.72" fill="#1e50e6" stroke="#1e50e6" stroke-width="0.3"/>
<polygon points="477.8,153.68 476.12,155.6 477.8,157.52 479.48,155.6" fill="#1e50e6" stroke="#1e50e6" stroke-width="0.3"/>
<polygon points="482.4,149.18 480.72,151.1 482.4,153.02 484.08,151.1" fill="#1e50e6" stroke="#1e50e6" stroke-width="0.3"/>
<polygon points="488.2,152.18 486.52,154.1 488.2,156.02 489.88,154.1" fill="#1e50e6" stroke="#1e50e6" stroke-width="0.3"/>
<polygon points="496,130.4 494.32,132.32 496,134.24 497.68,132.32" fill="#1e50e6" stroke="#1e50e6" stroke-width="0.3"/>
<polygon points="507,108.56 505.32,110.48 507,112.4 508.68,110.48" fill="#1e50e6" stroke="#1e50e6" stroke-width="0.3"/>
<polygon points="542.8,176.78 541.12,178.7 542.8,180.62 544.48,178.7" fill="#1e50e6" stroke="#1e50e6" stroke-width="0.3"/>
<polyline points="326.3,184.1 327.68,184.09 328.97,184.04 330.14,183.98 331.14,183.89 331.95,183.76 332.62,183.14 333.18,181.97 333.69,180.46 334.17,178.79 334.67,177.18 335.21,175.77 335.72,174.19 336.22,172.48 336.73,170.81 337.28,169.39 337.9,168.38 338.61,167.95 339.51,167.74 340.56,167.57 341.66,167.46 342.72,167.42 343.78,167.61 344.88,168.11 345.95,168.8 346.92,169.61 347.71,170.43 348.35,171.42 348.91,172.65 349.42,174.01 349.91,175.42 350.41,176.79 350.93,178.07 351.46,179.55 351.98,181.11 352.5,182.49 353.02,183.46 353.54,183.8 354.08,183.37 354.64,182.36 355.19,180.94 355.73,179.32 356.25,177.69 356.72,176.19 357.17,174.59 357.6,172.86 358.01,171.05 358.41,169.17 358.81,167.26 359.21,165.35 359.62,163.48 360.02,161.61 360.42,159.69 360.81,157.73 361.2,155.77 361.6,153.83 362.01,151.94 362.44,150.13 362.9,148.43 363.4,146.74 363.94,144.87 364.52,143.01 365.12,141.33 365.73,140.01 366.35,139.23 366.97,139.16 367.62,139.66 368.29,140.51 368.92,141.5 369.5,142.43 370.03,143.45 370.53,144.59 371.01,145.8 371.49,147.04 371.97,148.27 372.44,149.5 372.91,150.75 373.38,152.03 373.84,153.34 374.32,154.68 374.81,156.07 375.3,157.57 375.79,159.14 376.3,160.73 376.81,162.31 377.34,163.82 377.88,165.21 378.43,166.58 378.98,168.07 379.54,169.51 380.15,170.69 380.81,171.39 381.55,171.43 382.4,170.83 383.35,169.79 384.37,168.52 385.43,167.22 386.53,166.1 387.64,165.23 388.83,164.3 390.07,163.38 391.36,162.56 392.66,161.94 393.97,161.62 395.29,161.69 396.65,162.07 398.03,162.62 399.41,163.22 400.79,163.72 402.15,163.99 403.49,163.87 404.82,163.38 406.15,162.68 407.46,161.96 408.74,161.38 410,161.12 411.23,161.16 412.43,161.29 413.61,161.48 414.78,161.69 415.93,161.89 417.07,162.08 418.19,162.27 419.3,162.49 420.42,162.74 421.58,163.03 422.82,163.38 424.11,163.8 425.41,164.28 426.63,164.8 427.73,165.35 428.67,165.93 429.51,166.57 430.29,167.27 431.02,168 431.75,168.79 432.42,169.83 433.07,170.97 433.71,171.91 434.37,172.39 435.08,172.15 435.8,171.24 436.54,169.86 437.3,168.17 438.05,166.36 438.81,164.61 439.56,163.04 440.29,161.21 441,159.14 441.71,157.01 442.44,155.01 443.2,153.33 444,152.16 444.86,151.7 445.81,152.02 446.86,152.84 447.97,153.89 449.09,154.85 450.19,155.42 451.23,155.38 452.26,154.84 453.27,153.96 454.28,152.89 455.29,151.76 456.3,150.7 457.32,149.66 458.33,148.52 459.35,147.32 460.37,146.08 461.39,144.85 462.41,143.63 463.43,142.46 464.48,141.28 465.54,140.1 466.59,138.93 467.62,137.76 468.61,136.62 469.55,135.5 470.44,134.4 471.3,133.32 472.14,132.26 472.94,131.21 473.73,130.17 474.51,129.15 475.27,128.21 476.01,127.29 476.72,126.33 477.41,125.28 478.06,124.06 478.69,122.64 479.3,121.04 479.89,119.32 480.46,117.53 481.01,115.73 481.53,113.96 482.04,112.27 482.51,110.66 482.97,109.06 483.4,107.47 483.82,105.89 484.23,104.29 484.65,102.68 485.07,101.04 485.5,99.42 485.93,97.82 486.36,96.21 486.79,94.57 487.2,92.88 487.59,91.1 487.96,89.21 488.3,87.16 488.63,84.93 488.94,82.56 489.23,80.08 489.52,77.54 489.81,74.98 490.09,72.43 490.37,69.95 490.66,67.56 490.96,65.32 491.25,63.16 491.53,60.99 491.81,58.83 492.09,56.72 492.38,54.7 492.68,52.81 493.01,51.09 493.37,49.56 493.78,48.18 494.29,46.76 494.84,45.46 495.39,44.48 495.91,44.01 496.37,44.23 496.83,45.06 497.26,46.29 497.66,47.71 498.01,49.13 498.3,50.6 498.56,52.3 498.8,54.18 499.02,56.19 499.24,58.29 499.46,60.44 499.7,62.58 499.96,64.69 500.24,66.78 500.54,68.96 500.84,71.21 501.16,73.48 501.49,75.76 501.82,78.02 502.16,80.24 502.52,82.38 502.87,84.41 503.23,86.31 503.59,88.09 503.95,89.77 504.32,91.42 504.71,93.06 505.14,94.75 505.6,96.52 506.12,98.43 506.75,100.53 507.51,102.79 508.35,105.18 509.25,107.63 510.19,110.09 511.12,112.53 512.02,114.89 512.85,117.11 513.6,119.16 514.22,120.99 514.75,122.62 515.23,124.12 515.67,125.53 516.1,126.91 516.54,128.28 517.01,129.7 517.51,131.19 518.03,132.68 518.56,134.17 519.1,135.67 519.63,137.18 520.17,138.68 520.7,140.18 521.23,141.68 521.76,143.18 522.28,144.69 522.81,146.19 523.34,147.69 523.87,149.17 524.42,150.64 524.97,152.1 525.52,153.57 526.08,155.02 526.65,156.45 527.22,157.86 527.79,159.23 528.36,160.57 528.93,161.89 529.51,163.19 530.1,164.46 530.71,165.73 531.35,166.98 532.01,168.23 532.7,169.46 533.41,170.68 534.15,171.87 534.91,173.05 535.69,174.21 536.55,175.41 537.45,176.63 538.36,177.8 539.25,178.86 540.08,179.76 540.83,180.47 541.53,181.09 542.18,181.61 542.8,182" fill="none" stroke="#12a85a" stroke-width="1.25" stroke-linejoin="round" stroke-linecap="round"/>
<polygon points="338.4,169.69 336.8,166.86 340,166.86" fill="#d8f2e4" stroke="#12a85a" stroke-width="0.7"/>
<polygon points="347.6,171.97 346,169.14 349.2,169.14" fill="#d8f2e4" stroke="#12a85a" stroke-width="0.7"/>
<polygon points="359.7,164.77 358.1,161.94 361.3,161.94" fill="#d8f2e4" stroke="#12a85a" stroke-width="0.7"/>
<polygon points="366.7,140.77 365.1,137.94 368.3,137.94" fill="#d8f2e4" stroke="#12a85a" stroke-width="0.7"/>
<polygon points="374.6,157.15 373,154.32 376.2,154.32" fill="#d8f2e4" stroke="#12a85a" stroke-width="0.7"/>
<polygon points="386.9,167.47 385.3,164.64 388.5,164.64" fill="#d8f2e4" stroke="#12a85a" stroke-width="0.7"/>
<polygon points="394.4,163.27 392.8,160.44 396,160.44" fill="#d8f2e4" stroke="#12a85a" stroke-width="0.7"/>
<polygon points="402.5,165.67 400.9,162.84 404.1,162.84" fill="#d8f2e4" stroke="#12a85a" stroke-width="0.7"/>
<polygon points="410.1,162.79 408.5,159.96 411.7,159.96" fill="#d8f2e4" stroke="#12a85a" stroke-width="0.7"/>
<polygon points="421.4,164.65 419.8,161.82 423,161.82" fill="#d8f2e4" stroke="#12a85a" stroke-width="0.7"/>
<polygon points="428,167.17 426.4,164.34 429.6,164.34" fill="#d8f2e4" stroke="#12a85a" stroke-width="0.7"/>
<polygon points="439.3,165.25 437.7,162.42 440.9,162.42" fill="#d8f2e4" stroke="#12a85a" stroke-width="0.7"/>
<polygon points="444.9,153.37 443.3,150.54 446.5,150.54" fill="#d8f2e4" stroke="#12a85a" stroke-width="0.7"/>
<polygon points="450.6,157.15 449,154.32 452.2,154.32" fill="#d8f2e4" stroke="#12a85a" stroke-width="0.7"/>
<polygon points="456.2,152.47 454.6,149.64 457.8,149.64" fill="#d8f2e4" stroke="#12a85a" stroke-width="0.7"/>
<polygon points="462.8,144.85 461.2,142.02 464.4,142.02" fill="#d8f2e4" stroke="#12a85a" stroke-width="0.7"/>
<polygon points="469.4,137.35 467.8,134.52 471,134.52" fill="#d8f2e4" stroke="#12a85a" stroke-width="0.7"/>
<polygon points="474.1,131.35 472.5,128.52 475.7,128.52" fill="#d8f2e4" stroke="#12a85a" stroke-width="0.7"/>
<polygon points="477.8,126.25 476.2,123.42 479.4,123.42" fill="#d8f2e4" stroke="#12a85a" stroke-width="0.7"/>
<polygon points="482,114.07 480.4,111.24 483.6,111.24" fill="#d8f2e4" stroke="#12a85a" stroke-width="0.7"/>
<polygon points="488,90.67 486.4,87.84 489.6,87.84" fill="#d8f2e4" stroke="#12a85a" stroke-width="0.7"/>
<polygon points="496,45.67 494.4,42.84 497.6,42.84" fill="#d8f2e4" stroke="#12a85a" stroke-width="0.7"/>
<polygon points="506,99.67 504.4,96.84 507.6,96.84" fill="#d8f2e4" stroke="#12a85a" stroke-width="0.7"/>
<polygon points="542.8,183.67 541.2,180.84 544.39,180.84" fill="#d8f2e4" stroke="#12a85a" stroke-width="0.7"/>
<polyline points="326.3,184.1 327.53,184.1 328.72,184.08 329.87,184.06 330.99,184.03 332.06,184 333.09,183.95 334.08,183.91 335.03,183.86 335.94,183.8 336.79,183.74 337.6,183.64 338.36,183.52 339.09,183.38 339.82,183.21 340.54,183.03 341.27,182.82 342.01,182.53 342.76,182.17 343.49,181.74 344.21,181.27 344.91,180.76 345.58,180.25 346.21,179.72 346.79,179.12 347.35,178.44 347.89,177.73 348.42,177 348.95,176.3 349.48,175.64 350.03,175.07 350.62,174.6 351.25,174.19 351.87,173.8 352.47,173.41 353.02,172.97 353.47,172.44 353.85,171.78 354.18,170.98 354.48,170.07 354.76,169.08 355.03,168.03 355.29,166.96 355.56,165.89 355.84,164.84 356.14,163.83 356.43,162.65 356.7,161.35 356.97,160 357.25,158.67 357.55,157.46 357.88,156.42 358.24,155.64 358.64,155.19 359.12,155.12 359.75,155.14 360.53,155.17 361.39,155.21 362.28,155.25 363.15,155.28 363.94,155.3 364.64,155.2 365.3,154.81 365.93,154.19 366.55,153.43 367.16,152.6 367.79,151.77 368.43,151.02 369.11,150.42 369.82,149.84 370.57,149.22 371.34,148.61 372.11,148.05 372.87,147.58 373.62,147.25 374.33,147.09 375,147.14 375.66,147.4 376.31,147.81 376.93,148.33 377.54,148.91 378.11,149.5 378.66,150.07 379.18,150.68 379.67,151.35 380.15,152.08 380.61,152.86 381.07,153.69 381.53,154.57 382,155.49 382.47,156.48 382.94,157.63 383.4,158.93 383.86,160.34 384.31,161.81 384.77,163.33 385.24,164.85 385.71,166.34 386.21,167.75 386.72,169.07 387.26,170.24 387.82,171.24 388.43,172.06 389.09,172.81 389.8,173.5 390.54,174.14 391.3,174.74 392.07,175.3 392.83,175.85 393.58,176.37 394.31,176.89 395.02,177.39 395.74,177.86 396.46,178.32 397.17,178.75 397.89,179.17 398.59,179.56 399.3,179.94 399.98,180.36 400.65,180.8 401.32,181.2 402,181.55 402.71,181.78 403.45,181.88 404.25,181.88 405.1,181.88 405.99,181.88 406.9,181.88 407.81,181.88 408.71,181.88 409.59,181.88 410.43,181.86 411.25,181.69 412.07,181.38 412.88,180.97 413.68,180.5 414.47,179.99 415.24,179.48 416,179 416.74,178.51 417.45,177.97 418.14,177.39 418.83,176.79 419.52,176.21 420.23,175.66 420.96,175.17 421.74,174.74 422.56,174.31 423.43,173.87 424.32,173.44 425.22,173.06 426.1,172.74 426.95,172.52 427.76,172.41 428.51,172.41 429.22,172.47 429.9,172.56 430.56,172.68 431.22,172.82 431.89,172.97 432.56,173.22 433.24,173.64 433.91,174.17 434.58,174.71 435.24,175.19 435.91,175.5 436.57,175.57 437.22,175.42 437.87,175.1 438.51,174.67 439.16,174.2 439.81,173.73 440.47,173.32 441.13,172.93 441.79,172.48 442.45,172.03 443.12,171.62 443.81,171.29 444.52,171.11 445.26,171.09 446.05,171.13 446.86,171.2 447.69,171.29 448.54,171.38 449.38,171.45 450.21,171.49 451.02,171.48 451.82,171.38 452.61,171.2 453.4,170.97 454.19,170.71 455,170.47 455.82,170.26 456.65,170.1 457.51,169.97 458.39,169.85 459.27,169.74 460.16,169.62 461.05,169.5 461.94,169.37 462.82,169.22 463.7,169.03 464.59,168.82 465.48,168.59 466.37,168.34 467.24,168.08 468.1,167.82 468.92,167.57 469.72,167.32 470.48,167.08 471.23,166.84 471.96,166.6 472.67,166.35 473.36,166.09 474.04,165.82 474.69,165.54 475.32,165.23 475.92,164.91 476.53,164.59 477.15,164.28 477.8,164 478.49,163.75 479.2,163.51 479.93,163.29 480.67,163.07 481.41,162.84 482.16,162.61 482.9,162.37 483.66,162.11 484.43,161.85 485.21,161.59 485.97,161.32 486.72,161.04 487.44,160.77 488.13,160.49 488.79,160.22 489.45,159.94 490.08,159.65 490.71,159.34 491.33,159 491.95,158.62 492.56,158.21 493.16,157.76 493.75,157.27 494.34,156.73 494.91,156.15 495.49,155.5 496.06,154.7 496.63,153.72 497.2,152.62 497.77,151.42 498.33,150.17 498.88,148.92 499.42,147.69 499.94,146.53 500.45,145.49 500.94,144.59 501.41,143.83 501.85,143.12 502.27,142.45 502.68,141.83 503.1,141.26 503.53,140.72 503.99,140.21 504.45,139.66 504.91,139.12 505.39,138.65 505.89,138.32 506.41,138.2 506.95,138.31 507.52,138.59 508.1,139 508.71,139.5 509.33,140.04 509.98,140.58 510.65,141.16 511.37,141.83 512.11,142.59 512.87,143.42 513.65,144.3 514.43,145.21 515.21,146.14 515.99,147.06 516.74,147.97 517.47,148.85 518.19,149.75 518.9,150.67 519.6,151.61 520.3,152.55 521,153.5 521.7,154.45 522.41,155.39 523.12,156.31 523.84,157.2 524.57,158.07 525.3,158.93 526.05,159.77 526.8,160.61 527.55,161.43 528.31,162.25 529.06,163.06 529.82,163.87 530.58,164.67 531.34,165.46 532.1,166.28 532.88,167.1 533.66,167.93 534.44,168.75 535.22,169.56 535.98,170.33 536.74,171.07 537.48,171.76 538.2,172.4 538.89,172.98 539.58,173.54 540.25,174.08 540.9,174.58 541.55,175.05 542.18,175.48 542.8,175.88" fill="none" stroke="#c261e6" stroke-width="1.25" stroke-linejoin="round" stroke-linecap="round"/>
<polygon points="357.23,155.12 360.06,153.53 360.06,156.72" fill="#f6e6fc" stroke="#c261e6" stroke-width="0.7"/>
<polygon points="362.43,155.3 365.26,153.7 365.26,156.89" fill="#f6e6fc" stroke="#c261e6" stroke-width="0.7"/>
<polygon points="372.83,147.08 375.66,145.48 375.66,148.67" fill="#f6e6fc" stroke="#c261e6" stroke-width="0.7"/>
<polygon points="380.53,155.9 383.36,154.31 383.36,157.5" fill="#f6e6fc" stroke="#c261e6" stroke-width="0.7"/>
<polygon points="386.33,171.5 389.16,169.91 389.16,173.09" fill="#f6e6fc" stroke="#c261e6" stroke-width="0.7"/>
<polygon points="392.23,176.6 395.06,175 395.06,178.19" fill="#f6e6fc" stroke="#c261e6" stroke-width="0.7"/>
<polygon points="401.83,181.88 404.66,180.28 404.66,183.47" fill="#f6e6fc" stroke="#c261e6" stroke-width="0.7"/>
<polygon points="408.33,181.88 411.16,180.28 411.16,183.47" fill="#f6e6fc" stroke="#c261e6" stroke-width="0.7"/>
<polygon points="419.73,174.92 422.56,173.32 422.56,176.51" fill="#f6e6fc" stroke="#c261e6" stroke-width="0.7"/>
<polygon points="426.33,172.4 429.16,170.81 429.16,174" fill="#f6e6fc" stroke="#c261e6" stroke-width="0.7"/>
<polygon points="434.73,175.58 437.56,173.98 437.56,177.17" fill="#f6e6fc" stroke="#c261e6" stroke-width="0.7"/>
<polygon points="443.23,171.08 446.06,169.48 446.06,172.67" fill="#f6e6fc" stroke="#c261e6" stroke-width="0.7"/>
<polygon points="448.93,171.5 451.76,169.91 451.76,173.09" fill="#f6e6fc" stroke="#c261e6" stroke-width="0.7"/>
<polygon points="454.53,170.18 457.36,168.59 457.36,171.78" fill="#f6e6fc" stroke="#c261e6" stroke-width="0.7"/>
<polygon points="461.13,169.22 463.96,167.62 463.96,170.81" fill="#f6e6fc" stroke="#c261e6" stroke-width="0.7"/>
<polygon points="467.73,167.42 470.56,165.82 470.56,169.01" fill="#f6e6fc" stroke="#c261e6" stroke-width="0.7"/>
<polygon points="472.43,165.8 475.26,164.2 475.26,167.39" fill="#f6e6fc" stroke="#c261e6" stroke-width="0.7"/>
<polygon points="476.13,164 478.96,162.41 478.96,165.59" fill="#f6e6fc" stroke="#c261e6" stroke-width="0.7"/>
<polygon points="480.83,162.5 483.66,160.91 483.66,164.09" fill="#f6e6fc" stroke="#c261e6" stroke-width="0.7"/>
<polygon points="485.93,160.7 488.76,159.1 488.76,162.29" fill="#f6e6fc" stroke="#c261e6" stroke-width="0.7"/>
<polygon points="493.73,155.6 496.56,154 496.56,157.19" fill="#f6e6fc" stroke="#c261e6" stroke-width="0.7"/>
<polygon points="504.73,138.2 507.56,136.6 507.56,139.79" fill="#f6e6fc" stroke="#c261e6" stroke-width="0.7"/>
<polygon points="541.13,175.88 543.96,174.28 543.96,177.47" fill="#f6e6fc" stroke="#c261e6" stroke-width="0.7"/>
<line x1="340.8" y1="153" x2="340.8" y2="179.5" stroke="#fa0a18" stroke-width="1.8"/>
<line x1="337.3" y1="153" x2="344.3" y2="153" stroke="#fa0a18" stroke-width="1.6"/>
<line x1="337.3" y1="179.5" x2="344.3" y2="179.5" stroke="#fa0a18" stroke-width="1.6"/>
<line x1="365.9" y1="126.4" x2="365.9" y2="153" stroke="#fa0a18" stroke-width="1.8"/>
<line x1="362.2" y1="126.4" x2="369.6" y2="126.4" stroke="#fa0a18" stroke-width="1.6"/>
<line x1="362.2" y1="153" x2="369.6" y2="153" stroke="#fa0a18" stroke-width="1.6"/>
<line x1="446.2" y1="135.7" x2="446.2" y2="162.6" stroke="#fa0a18" stroke-width="1.8"/>
<line x1="442.2" y1="135.7" x2="450.2" y2="135.7" stroke="#fa0a18" stroke-width="1.6"/>
<line x1="442.2" y1="162.6" x2="450.2" y2="162.6" stroke="#fa0a18" stroke-width="1.6"/>
<line x1="329.2" y1="27.1" x2="346.8" y2="27.1" stroke="#111" stroke-width="1.3"/>
<circle cx="338" cy="27.1" r="1.4" fill="#111" stroke="#111" stroke-width="0.6"/>
<text x="348.4" y="30" font-size="7.4">NPB</text>
<line x1="329.2" y1="35.8" x2="346.8" y2="35.8" stroke="#f5222d" stroke-width="1.3"/>
<polygon points="338,34.19 336.46,36.92 339.54,36.92" fill="#fff" stroke="#f5222d" stroke-width="0.6"/>
<text x="348.4" y="38.7" font-size="7.4">NPGB-1.2</text>
<line x1="329.2" y1="44.6" x2="346.8" y2="44.6" stroke="#1e50e6" stroke-width="1.3"/>
<polygon points="338,42.92 336.53,44.6 338,46.28 339.47,44.6" fill="#1e50e6" stroke="#1e50e6" stroke-width="0.6"/>
<text x="348.4" y="47.5" font-size="7.4">NPGB-1.6</text>
<line x1="329.2" y1="53.4" x2="346.8" y2="53.4" stroke="#12a85a" stroke-width="1.3"/>
<polygon points="338,55.01 336.46,52.28 339.54,52.28" fill="#cfeedd" stroke="#12a85a" stroke-width="0.6"/>
<text x="348.4" y="56.3" font-size="7.4">NPGB-2.4</text>
<line x1="329.2" y1="62" x2="346.8" y2="62" stroke="#c261e6" stroke-width="1.3"/>
<polygon points="336.39,62 339.12,60.46 339.12,63.54" fill="#f0d8fa" stroke="#c261e6" stroke-width="0.6"/>
<text x="348.4" y="64.9" font-size="7.4">NPBG-3.2</text>
<rect x="191.7" y="244.13" width="32" height="146.07" fill="#ff0000" stroke="#5a0000" stroke-width="0.45"/>
<line x1="207.7" y1="390.2" x2="207.7" y2="393.6" stroke="#000" stroke-width="1.0"/>
<text x="207.7" y="401" font-size="7.15" text-anchor="middle">NPB</text>
<rect x="231.85" y="309.49" width="32" height="80.71" fill="#ff0000" stroke="#5a0000" stroke-width="0.45"/>
<line x1="247.85" y1="390.2" x2="247.85" y2="393.6" stroke="#000" stroke-width="1.0"/>
<text x="247.85" y="401" font-size="7.15" text-anchor="middle">NPGB-1.2</text>
<rect x="272" y="334.41" width="32" height="55.79" fill="#ff0000" stroke="#5a0000" stroke-width="0.45"/>
<line x1="288" y1="390.2" x2="288" y2="393.6" stroke="#000" stroke-width="1.0"/>
<text x="288" y="401" font-size="7.15" text-anchor="middle">NPGB-1.6</text>
<rect x="312.15" y="360.3" width="32" height="29.9" fill="#ff0000" stroke="#5a0000" stroke-width="0.45"/>
<line x1="328.15" y1="390.2" x2="328.15" y2="393.6" stroke="#000" stroke-width="1.0"/>
<text x="328.15" y="401" font-size="7.15" text-anchor="middle">NPGB-2.4</text>
<rect x="352.3" y="328.52" width="32" height="61.68" fill="#ff0000" stroke="#5a0000" stroke-width="0.45"/>
<line x1="368.3" y1="390.2" x2="368.3" y2="393.6" stroke="#000" stroke-width="1.0"/>
<text x="368.3" y="401" font-size="7.15" text-anchor="middle">NPGB-3.2</text>
<path d="M187.3,228.4 H388.4 V390.2" fill="none" stroke="#111" stroke-width="1.05"/>
<path d="M187.3,227.9 V390.2 H388.9" fill="none" stroke="#000" stroke-width="1.3"/>
<line x1="183.9" y1="390.2" x2="187.3" y2="390.2" stroke="#000" stroke-width="1.1"/>
<text x="181.9" y="393.3" font-size="7.6" font-weight="bold" text-anchor="end">0</text>
<line x1="183.9" y1="357.84" x2="187.3" y2="357.84" stroke="#000" stroke-width="1.1"/>
<text x="181.9" y="360.94" font-size="7.6" font-weight="bold" text-anchor="end">50</text>
<line x1="183.9" y1="325.48" x2="187.3" y2="325.48" stroke="#000" stroke-width="1.1"/>
<text x="181.9" y="328.58" font-size="7.6" font-weight="bold" text-anchor="end">100</text>
<line x1="183.9" y1="293.12" x2="187.3" y2="293.12" stroke="#000" stroke-width="1.1"/>
<text x="181.9" y="296.22" font-size="7.6" font-weight="bold" text-anchor="end">150</text>
<line x1="183.9" y1="260.76" x2="187.3" y2="260.76" stroke="#000" stroke-width="1.1"/>
<text x="181.9" y="263.86" font-size="7.6" font-weight="bold" text-anchor="end">200</text>
<line x1="183.9" y1="228.4" x2="187.3" y2="228.4" stroke="#000" stroke-width="1.1"/>
<text x="181.9" y="231.5" font-size="7.6" font-weight="bold" text-anchor="end">250</text>
<line x1="185.3" y1="374.02" x2="187.3" y2="374.02" stroke="#000" stroke-width="1.0"/>
<line x1="185.3" y1="341.66" x2="187.3" y2="341.66" stroke="#000" stroke-width="1.0"/>
<line x1="185.3" y1="309.3" x2="187.3" y2="309.3" stroke="#000" stroke-width="1.0"/>
<line x1="185.3" y1="276.94" x2="187.3" y2="276.94" stroke="#000" stroke-width="1.0"/>
<line x1="185.3" y1="244.58" x2="187.3" y2="244.58" stroke="#000" stroke-width="1.0"/>
<text x="166.7" y="309.6" font-size="10.7" text-anchor="middle" transform="rotate(-90 166.7 309.6)">Average pore diameter (um)</text>
<text x="286.9" y="416.2" font-size="10.7" text-anchor="middle">Sample</text>
<text x="142.3" y="246" font-size="15.9" font-weight="bold" text-anchor="middle">(c)</text>
</svg>
</body></html>
